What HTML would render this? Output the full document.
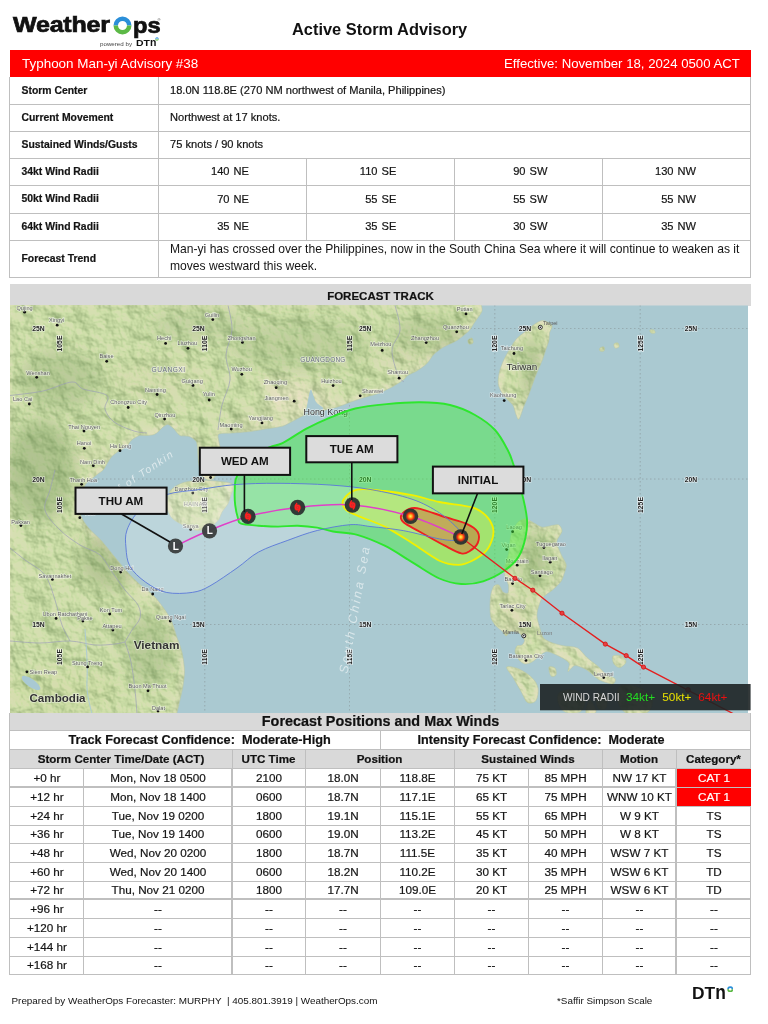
<!DOCTYPE html>
<html><head><meta charset="utf-8"><title>Active Storm Advisory</title>
<style>
html,body{margin:0;padding:0;background:#fff;}
body{position:relative;width:768px;height:1024px;overflow:hidden;font-family:"Liberation Sans", Arial, sans-serif;color:#141414;}
.a{position:absolute;white-space:nowrap;}
.l{position:absolute;}
.c{position:absolute;display:flex;align-items:center;white-space:nowrap;line-height:1;-webkit-text-stroke:0.2px currentColor;}
</style></head><body>
<div class="a" style="left:13px;top:10px;font-size:21.5px;font-weight:bold;color:#111;letter-spacing:-0.2px;-webkit-text-stroke:0.7px #111;transform:scaleX(1.165);transform-origin:0 0;line-height:30px">Weather</div>
<svg class="a" style="left:113px;top:15.5px" width="19" height="19" viewBox="0 0 19 19">
<path d="M0.5 9.5 A9 9 0 0 1 18.5 9.5 L14 9.5 A4.5 4.5 0 0 0 5 9.5 Z" fill="#2b8fd9"/>
<path d="M0.5 9.5 A9 9 0 0 0 18.5 9.5 L14 9.5 A4.5 4.5 0 0 1 5 9.5 Z" fill="#5cb946"/></svg>
<div class="a" style="left:132.5px;top:11.2px;font-size:21.5px;font-weight:bold;color:#111;-webkit-text-stroke:0.7px #111;transform:scaleX(1.1);transform-origin:0 0;line-height:30px">ps</div>
<div class="a" style="left:157.5px;top:17px;font-size:4px;color:#333">&#174;</div>
<div class="a" style="left:100px;top:39.5px;font-size:6.2px;color:#444;line-height:8px">powered by</div>
<div class="a" style="left:136.2px;top:38.6px;font-size:8.2px;font-weight:bold;color:#111;line-height:9px;transform:scaleX(1.28);transform-origin:0 0">DT<span style="display:inline-block;transform:scaleY(1.28);transform-origin:50% 80%">n</span></div>
<svg class="a" style="left:154.5px;top:36.5px" width="4" height="4" viewBox="0 0 4 4"><path d="M0.3 2 A1.7 1.7 0 0 1 3.7 2 L2.8 2 A0.8 0.8 0 0 0 1.2 2Z" fill="#2b8fd9"/><path d="M0.3 2 A1.7 1.7 0 0 0 3.7 2 L2.8 2 A0.8 0.8 0 0 1 1.2 2Z" fill="#5cb946"/></svg>
<div class="a" style="left:292px;top:18px;font-size:16.4px;font-weight:bold;color:#111;line-height:22px">Active Storm Advisory</div>
<div class="a" style="left:10px;top:50px;width:741px;height:27px;background:#ff0000"></div>
<div class="a" style="left:22px;top:55px;font-size:13.45px;color:#fff;line-height:17px">Typhoon Man-yi Advisory #38</div>
<div class="a" style="left:504px;top:55px;font-size:13.2px;color:#fff;line-height:17px">Effective: November 18, 2024 0500 ACT</div>
<div class="l" style="left:9px;top:77px;width:1px;height:201px;background:#bfbfbf"></div>
<div class="l" style="left:750px;top:77px;width:1px;height:201px;background:#bfbfbf"></div>
<div class="l" style="left:9px;top:104px;width:742px;height:1px;background:#bfbfbf"></div>
<div class="l" style="left:9px;top:131px;width:742px;height:1px;background:#bfbfbf"></div>
<div class="l" style="left:9px;top:158px;width:742px;height:1px;background:#bfbfbf"></div>
<div class="l" style="left:9px;top:185px;width:742px;height:1px;background:#bfbfbf"></div>
<div class="l" style="left:9px;top:213px;width:742px;height:1px;background:#bfbfbf"></div>
<div class="l" style="left:9px;top:240px;width:742px;height:1px;background:#bfbfbf"></div>
<div class="l" style="left:9px;top:277px;width:742px;height:1px;background:#bfbfbf"></div>
<div class="l" style="left:158px;top:77px;width:1px;height:200px;background:#bfbfbf"></div>
<div class="l" style="left:306px;top:158px;width:1px;height:82px;background:#bfbfbf"></div>
<div class="l" style="left:454px;top:158px;width:1px;height:82px;background:#bfbfbf"></div>
<div class="l" style="left:602px;top:158px;width:1px;height:82px;background:#bfbfbf"></div>
<div class="c" style="left:10px;top:78px;width:148px;height:26px;font-size:10.4px;justify-content:flex-start;color:#141414;font-weight:bold;padding-left:11.5px;box-sizing:border-box;">Storm Center</div>
<div class="c" style="left:10px;top:105px;width:148px;height:26px;font-size:10.4px;justify-content:flex-start;color:#141414;font-weight:bold;padding-left:11.5px;box-sizing:border-box;">Current Movement</div>
<div class="c" style="left:10px;top:132px;width:148px;height:26px;font-size:10.4px;justify-content:flex-start;color:#141414;font-weight:bold;padding-left:11.5px;box-sizing:border-box;">Sustained Winds/Gusts</div>
<div class="c" style="left:10px;top:159px;width:148px;height:26px;font-size:10.4px;justify-content:flex-start;color:#141414;font-weight:bold;padding-left:11.5px;box-sizing:border-box;">34kt Wind Radii</div>
<div class="c" style="left:10px;top:186px;width:148px;height:27px;font-size:10.4px;justify-content:flex-start;color:#141414;font-weight:bold;padding-left:11.5px;box-sizing:border-box;">50kt Wind Radii</div>
<div class="c" style="left:10px;top:214px;width:148px;height:26px;font-size:10.4px;justify-content:flex-start;color:#141414;font-weight:bold;padding-left:11.5px;box-sizing:border-box;">64kt Wind Radii</div>
<div class="c" style="left:10px;top:241px;width:148px;height:36px;font-size:10.4px;justify-content:flex-start;color:#141414;font-weight:bold;padding-left:11.5px;box-sizing:border-box;">Forecast Trend</div>
<div class="c" style="left:159px;top:78px;width:591px;height:26px;font-size:11.1px;justify-content:flex-start;color:#141414;padding-left:11px;box-sizing:border-box;">18.0N 118.8E (270 NM northwest of Manila, Philippines)</div>
<div class="c" style="left:159px;top:105px;width:591px;height:26px;font-size:11.1px;justify-content:flex-start;color:#141414;padding-left:11px;box-sizing:border-box;">Northwest at 17 knots.</div>
<div class="c" style="left:159px;top:132px;width:591px;height:26px;font-size:11.1px;justify-content:flex-start;color:#141414;padding-left:11px;box-sizing:border-box;">75 knots / 90 knots</div>
<div class="c" style="left:158px;top:159px;width:71.5px;height:26px;font-size:11.1px;justify-content:flex-end">140</div>
<div class="c" style="left:233.5px;top:159px;height:26px;font-size:11.1px">NE</div>
<div class="c" style="left:306px;top:159px;width:71.5px;height:26px;font-size:11.1px;justify-content:flex-end">110</div>
<div class="c" style="left:381.5px;top:159px;height:26px;font-size:11.1px">SE</div>
<div class="c" style="left:454px;top:159px;width:71.5px;height:26px;font-size:11.1px;justify-content:flex-end">90</div>
<div class="c" style="left:529.5px;top:159px;height:26px;font-size:11.1px">SW</div>
<div class="c" style="left:602px;top:159px;width:71.5px;height:26px;font-size:11.1px;justify-content:flex-end">130</div>
<div class="c" style="left:677.5px;top:159px;height:26px;font-size:11.1px">NW</div>
<div class="c" style="left:158px;top:186px;width:71.5px;height:27px;font-size:11.1px;justify-content:flex-end">70</div>
<div class="c" style="left:233.5px;top:186px;height:27px;font-size:11.1px">NE</div>
<div class="c" style="left:306px;top:186px;width:71.5px;height:27px;font-size:11.1px;justify-content:flex-end">55</div>
<div class="c" style="left:381.5px;top:186px;height:27px;font-size:11.1px">SE</div>
<div class="c" style="left:454px;top:186px;width:71.5px;height:27px;font-size:11.1px;justify-content:flex-end">55</div>
<div class="c" style="left:529.5px;top:186px;height:27px;font-size:11.1px">SW</div>
<div class="c" style="left:602px;top:186px;width:71.5px;height:27px;font-size:11.1px;justify-content:flex-end">55</div>
<div class="c" style="left:677.5px;top:186px;height:27px;font-size:11.1px">NW</div>
<div class="c" style="left:158px;top:214px;width:71.5px;height:26px;font-size:11.1px;justify-content:flex-end">35</div>
<div class="c" style="left:233.5px;top:214px;height:26px;font-size:11.1px">NE</div>
<div class="c" style="left:306px;top:214px;width:71.5px;height:26px;font-size:11.1px;justify-content:flex-end">35</div>
<div class="c" style="left:381.5px;top:214px;height:26px;font-size:11.1px">SE</div>
<div class="c" style="left:454px;top:214px;width:71.5px;height:26px;font-size:11.1px;justify-content:flex-end">30</div>
<div class="c" style="left:529.5px;top:214px;height:26px;font-size:11.1px">SW</div>
<div class="c" style="left:602px;top:214px;width:71.5px;height:26px;font-size:11.1px;justify-content:flex-end">35</div>
<div class="c" style="left:677.5px;top:214px;height:26px;font-size:11.1px">NW</div>
<div class="a" style="left:170px;top:241px;font-size:12.1px;line-height:16.9px;color:#141414">Man-yi has crossed over the Philippines, now in the South China Sea where it will continue to weaken as it<br>moves westward this week.</div>
<div class="a" style="left:10px;top:284px;width:741px;height:22px;background:#d9d9d9"></div>
<div class="c" style="left:10px;top:286px;width:741px;height:22px;font-size:11.5px;justify-content:center;color:#111;font-weight:bold;">FORECAST TRACK</div>
<svg class="a" style="left:10px;top:305px" width="741" height="409" viewBox="10 305 741 409">
<defs>
<clipPath id="mclip"><rect x="10" y="305.5" width="738" height="408.5"/></clipPath>
<clipPath id="landclip"><path d="M5,300 L482,300 L481.0,303.0 C481.1,304.1 482.5,308.9 482.0,311.0 C481.5,313.1 478.1,317.3 477.0,319.0 C475.9,320.7 474.8,322.1 473.7,323.7 C472.6,325.3 471.2,328.6 469.0,330.8 C466.8,333.0 460.7,338.0 457.3,340.2 C453.9,342.4 446.4,345.3 443.3,347.2 C440.2,349.1 436.1,352.0 433.9,354.2 C431.7,356.4 429.1,361.4 426.9,363.6 C424.7,365.8 420.0,369.0 417.5,370.6 C415.0,372.2 409.9,374.0 408.0,375.3 C406.1,376.6 405.3,378.6 403.4,380.0 C401.5,381.4 396.2,384.6 394.0,385.9 C391.8,387.2 388.9,388.5 387.0,389.4 C385.1,390.3 382.9,391.8 380.0,392.9 C377.1,394.0 369.2,396.0 365.0,397.3 C360.8,398.6 352.2,401.5 348.6,402.8 C345.0,404.1 341.3,405.8 337.7,406.9 C334.1,408.0 325.7,409.9 321.3,411.0 C316.9,412.1 308.5,413.8 304.8,415.1 C301.1,416.4 296.8,419.1 293.9,420.6 C291.0,422.1 286.6,424.9 283.0,426.0 C279.4,427.1 271.0,428.1 266.6,428.8 C262.2,429.5 254.6,431.0 250.2,431.5 C245.8,432.0 238.0,432.6 233.8,432.9 C229.6,433.2 221.0,432.9 219.0,434.0 C217.0,435.1 218.5,438.6 218.8,441.0 C219.0,443.4 220.8,448.7 221.0,452.0 C221.2,455.3 220.9,462.5 220.0,466.0 C219.1,469.5 215.6,476.1 214.0,478.0 C212.4,479.9 209.6,480.3 208.0,480.0 C206.4,479.7 203.2,477.9 202.0,476.0 C200.8,474.1 199.5,468.7 199.0,466.0 C198.5,463.3 198.2,458.5 198.0,456.0 C197.8,453.5 197.8,449.5 197.5,447.5 C197.2,445.5 197.1,442.7 196.0,441.2 C194.9,439.8 191.5,437.3 189.4,436.5 C187.3,435.7 182.1,436.5 180.0,435.5 C177.9,434.5 175.6,430.5 174.0,429.0 C172.4,427.5 169.5,424.8 168.0,424.5 C166.5,424.2 164.2,426.1 163.0,427.0 C161.8,427.9 160.2,430.0 159.0,431.0 C157.8,432.0 155.7,433.9 154.0,434.5 C152.3,435.1 147.9,435.4 146.0,435.5 C144.1,435.6 141.3,434.9 139.4,435.5 C137.5,436.1 133.3,438.6 131.6,440.0 C129.9,441.4 128.7,444.8 127.0,446.2 C125.3,447.7 120.9,449.8 119.0,451.0 C117.1,452.2 114.3,454.1 112.8,455.6 C111.3,457.1 109.3,460.0 108.0,461.9 C106.7,463.8 104.8,468.0 103.4,469.7 C102.0,471.4 99.1,472.9 97.2,474.4 C95.3,475.9 91.1,479.1 89.4,480.6 C87.7,482.1 85.8,483.0 84.7,486.0 C83.6,489.0 81.6,499.2 81.0,503.0 C80.4,506.8 79.4,511.1 80.3,514.3 C81.2,517.5 85.2,523.8 88.0,527.3 C90.8,530.8 97.5,536.5 101.0,540.3 C104.5,544.1 110.5,551.8 114.0,556.0 C117.5,560.2 123.5,567.8 127.0,571.6 C130.5,575.4 136.5,581.5 140.0,584.6 C143.5,587.7 149.9,591.9 153.0,595.0 C156.1,598.1 161.1,604.5 163.6,608.0 C166.1,611.5 169.8,617.2 171.5,621.0 C173.2,624.8 175.3,632.5 176.7,636.7 C178.1,640.9 181.0,647.8 182.0,652.3 C183.0,656.8 184.4,666.0 184.5,670.5 C184.6,675.0 183.7,681.5 183.0,686.0 C182.3,690.5 179.8,700.3 179.0,704.0 C178.2,707.7 177.0,712.7 176.7,714.0 L176,720 L5,720 Z M181.0,483.4 C185.3,481.8 191.3,480.9 197.0,480.5 C202.7,480.1 209.3,480.5 215.0,481.0 C220.7,481.5 227.9,482.2 231.0,483.4 C234.1,484.6 233.5,486.1 233.5,488.0 C233.5,489.9 231.9,492.4 231.0,495.0 C230.1,497.6 229.5,500.9 228.0,503.8 C226.5,506.6 223.5,509.4 222.0,512.0 C220.5,514.6 220.3,517.1 218.8,519.4 C217.2,521.7 214.8,524.0 212.5,525.6 C210.2,527.2 207.6,528.2 205.0,529.0 C202.4,529.8 200.3,531.0 197.0,530.5 C193.7,530.0 189.0,527.9 185.0,526.0 C181.0,524.1 175.8,521.5 173.0,519.0 C170.2,516.5 169.0,513.5 168.0,511.0 C167.0,508.5 167.0,506.1 167.0,503.8 C167.0,501.4 167.3,499.3 168.0,497.0 C168.7,494.7 168.8,492.3 171.0,490.0 C173.2,487.7 176.7,485.0 181.0,483.4 Z M542.5,320.6 C545.6,320.6 550.7,323.2 551.9,325.3 C553.1,327.4 550.0,330.4 549.5,333.0 C549.0,335.6 549.4,338.1 548.8,341.0 C548.1,343.9 546.6,347.2 545.6,350.3 C544.6,353.4 543.8,356.3 542.5,359.7 C541.2,363.1 539.4,366.7 537.8,370.6 C536.2,374.5 534.6,378.8 533.0,383.0 C531.4,387.2 529.9,391.7 528.4,395.6 C526.9,399.5 525.3,402.7 523.8,406.6 C522.2,410.5 520.3,417.7 519.0,419.0 C517.7,420.3 517.0,416.7 516.0,414.4 C515.0,412.1 514.6,407.9 512.8,405.0 C511.0,402.1 507.3,400.3 505.0,397.2 C502.7,394.1 499.8,389.9 498.8,386.2 C497.7,382.6 498.2,378.9 498.8,375.3 C499.3,371.7 500.4,368.3 501.9,364.4 C503.4,360.5 505.6,356.2 508.0,352.0 C510.4,347.8 513.1,342.8 516.0,339.4 C518.9,336.0 522.5,334.0 525.3,331.6 C528.1,329.2 530.1,327.1 533.0,325.3 C535.9,323.5 539.4,320.6 542.5,320.6 Z M517.2,523.0 C519.1,520.8 523.3,518.8 525.5,518.8 C527.7,518.8 531.8,521.9 534.0,523.0 C536.2,524.1 539.8,526.9 542.2,527.2 C544.6,527.5 549.8,525.8 552.0,525.5 C554.2,525.2 557.7,524.2 559.0,525.0 C560.3,525.8 562.3,529.1 562.0,531.3 C561.7,533.5 556.9,538.7 556.8,541.8 C556.7,544.9 559.7,551.2 561.0,554.3 C562.3,557.4 565.8,562.1 566.2,564.8 C566.6,567.4 564.7,571.8 564.0,574.0 C563.3,576.2 562.5,579.4 561.0,581.5 C559.5,583.6 555.2,587.6 552.7,589.8 C550.2,592.0 544.2,595.7 542.2,598.2 C540.2,600.7 538.7,606.1 538.0,608.6 C537.3,611.1 536.7,614.3 537.0,617.0 C537.3,619.7 539.1,625.7 540.0,628.5 C540.9,631.3 541.8,636.1 543.5,638.0 C545.2,639.9 550.0,642.0 552.7,643.0 C555.4,644.0 560.1,645.1 563.4,645.8 C566.7,646.5 574.4,646.4 577.5,648.0 C580.6,649.6 584.1,655.0 586.9,657.5 C589.7,660.0 596.1,664.7 598.6,666.9 C601.1,669.1 603.4,672.3 605.6,673.9 C607.8,675.5 614.1,677.3 615.0,678.6 C615.9,679.9 614.9,683.9 612.7,684.0 C610.5,684.1 602.0,681.4 598.6,679.5 C595.2,677.6 590.0,671.9 586.9,670.0 C583.8,668.1 577.5,665.3 575.0,665.5 C572.5,665.7 568.8,671.8 568.0,671.5 C567.2,671.2 570.2,665.1 569.0,663.0 C567.8,660.9 561.7,657.5 558.8,656.0 C555.8,654.5 549.5,651.6 547.0,651.5 C544.5,651.4 542.0,654.1 540.0,655.5 C538.0,656.9 534.0,660.9 532.0,662.0 C530.0,663.1 526.7,664.3 525.0,664.0 C523.3,663.7 520.3,661.6 519.0,660.0 C517.7,658.4 515.3,653.9 515.0,652.0 C514.7,650.1 516.1,646.9 517.0,646.0 C517.9,645.1 521.0,645.8 522.0,645.0 C523.0,644.2 524.9,641.6 524.5,640.0 C524.1,638.4 520.8,634.1 519.0,633.0 C517.2,631.9 512.7,631.1 511.0,631.5 C509.3,631.9 507.2,636.1 506.0,636.0 C504.8,635.9 503.3,632.3 502.0,631.0 C500.7,629.7 497.5,627.7 496.0,626.0 C494.5,624.3 491.8,620.7 491.0,618.0 C490.2,615.3 490.0,609.2 490.0,606.0 C490.0,602.8 490.5,596.7 491.0,594.0 C491.5,591.3 492.9,587.2 494.0,586.0 C495.1,584.8 497.8,584.2 499.0,585.0 C500.2,585.8 501.8,590.9 503.0,592.0 C504.2,593.1 507.3,593.9 508.0,593.0 C508.7,592.1 508.9,587.1 508.5,585.0 C508.1,582.9 505.5,579.1 505.0,577.0 C504.5,574.9 504.1,572.3 504.6,569.0 C505.1,565.7 508.0,556.7 508.8,552.2 C509.6,547.7 509.8,539.4 510.9,535.5 C512.0,531.6 515.3,525.2 517.2,523.0 Z M506.7,667.0 C507.7,665.6 514.8,667.2 519.0,669.0 C523.2,670.8 528.6,674.3 531.8,677.5 C535.0,680.7 537.3,684.2 538.0,688.0 C538.7,691.8 537.7,698.1 536.0,700.5 C534.3,702.9 530.1,704.0 527.6,702.6 C525.1,701.2 523.7,696.2 521.3,692.0 C518.9,687.8 515.4,681.7 513.0,677.5 C510.6,673.3 505.7,668.4 506.7,667.0 Z M613.0,656.0 C614.3,654.8 619.8,655.5 622.0,656.5 C624.2,657.5 626.3,660.2 626.0,662.0 C625.7,663.8 622.0,667.2 620.0,667.5 C618.0,667.8 615.2,665.9 614.0,664.0 C612.8,662.1 611.7,657.2 613.0,656.0 Z M549.0,667.0 C549.7,665.7 553.8,666.7 555.0,668.0 C556.2,669.3 556.7,673.7 556.0,675.0 C555.3,676.3 552.2,677.3 551.0,676.0 C549.8,674.7 548.3,668.3 549.0,667.0 Z M620.0,686.0 C623.7,683.7 634.7,686.0 640.0,688.0 C645.3,690.0 650.7,694.0 652.0,698.0 C653.3,702.0 652.0,709.3 648.0,712.0 C644.0,714.7 633.0,715.7 628.0,714.0 C623.0,712.3 619.3,706.7 618.0,702.0 C616.7,697.3 616.3,688.3 620.0,686.0 Z M560.0,692.0 C562.8,690.0 570.8,688.7 575.0,690.0 C579.2,691.3 584.2,696.3 585.0,700.0 C585.8,703.7 583.3,710.0 580.0,712.0 C576.7,714.0 568.7,713.7 565.0,712.0 C561.3,710.3 558.8,705.3 558.0,702.0 C557.2,698.7 557.2,694.0 560.0,692.0 Z M596.0,694.0 C597.3,692.0 604.3,693.7 606.0,696.0 C607.7,698.3 607.3,706.0 606.0,708.0 C604.7,710.0 599.7,710.3 598.0,708.0 C596.3,705.7 594.7,696.0 596.0,694.0 Z M590.0,700.0 C591.7,699.8 596.7,709.8 596.0,712.0 C595.3,714.2 587.0,715.0 586.0,713.0 C585.0,711.0 588.3,700.2 590.0,700.0 Z M468.0,340.0 C468.5,339.0 471.2,337.5 472.0,338.0 C472.8,338.5 473.5,342.0 473.0,343.0 C472.5,344.0 469.8,344.5 469.0,344.0 C468.2,343.5 467.5,341.0 468.0,340.0 Z M600.0,348.0 C600.7,347.3 603.3,346.5 604.0,347.0 C604.7,347.5 604.7,350.3 604.0,351.0 C603.3,351.7 600.7,351.5 600.0,351.0 C599.3,350.5 599.3,348.7 600.0,348.0 Z M614.0,344.0 C614.5,343.2 617.2,342.5 618.0,343.0 C618.8,343.5 619.5,346.2 619.0,347.0 C618.5,347.8 615.8,348.5 615.0,348.0 C614.2,347.5 613.5,344.8 614.0,344.0 Z M650.0,330.0 C650.5,329.5 653.2,329.5 654.0,330.0 C654.8,330.5 655.5,332.5 655.0,333.0 C654.5,333.5 651.8,333.5 651.0,333.0 C650.2,332.5 649.5,330.5 650.0,330.0 Z"/></clipPath>
<filter id="relief" x="0" y="0" width="100%" height="100%" color-interpolation-filters="sRGB">
 <feTurbulence type="fractalNoise" baseFrequency="0.05" numOctaves="5" seed="11" result="noise"/>
 <feDiffuseLighting in="noise" lighting-color="#ffffff" surfaceScale="4" diffuseConstant="1.1" result="light">
   <feDistantLight azimuth="315" elevation="50"/>
 </feDiffuseLighting>
 <feColorMatrix in="light" type="matrix" values="0.72 0 0 0 0.3  0.6 0 0 0 0.47  0.75 0 0 0 0.22  0 0 0 0 1"/>
</filter>
<filter id="blur6" x="-50%" y="-50%" width="200%" height="200%"><feGaussianBlur stdDeviation="7"/></filter>
<filter id="blur3" x="-50%" y="-50%" width="200%" height="200%"><feGaussianBlur stdDeviation="3"/></filter>
<radialGradient id="glowg"><stop offset="0" stop-color="#fff060"/><stop offset="0.3" stop-color="#ffb020"/><stop offset="0.6" stop-color="#ff3a10"/><stop offset="1" stop-color="#ff2010" stop-opacity="0"/></radialGradient>
<radialGradient id="glowr"><stop offset="0" stop-color="#ff3030" stop-opacity="0.9"/><stop offset="0.6" stop-color="#ff2020" stop-opacity="0.5"/><stop offset="1" stop-color="#ff2020" stop-opacity="0"/></radialGradient>
</defs>
<g clip-path="url(#mclip)">
<rect x="10" y="305" width="738" height="409" fill="#aac9d1"/>
<line x1="10" y1="328.4" x2="748" y2="328.4" stroke="#707070" stroke-width="0.8" stroke-dasharray="1.5 2.5" opacity="0.45"/>
<line x1="10" y1="479" x2="748" y2="479" stroke="#707070" stroke-width="0.8" stroke-dasharray="1.5 2.5" opacity="0.45"/>
<line x1="10" y1="624.5" x2="748" y2="624.5" stroke="#707070" stroke-width="0.8" stroke-dasharray="1.5 2.5" opacity="0.45"/>
<line x1="59.5" y1="305" x2="59.5" y2="714" stroke="#707070" stroke-width="0.8" stroke-dasharray="1.5 2.5" opacity="0.45"/>
<line x1="204.8" y1="305" x2="204.8" y2="714" stroke="#707070" stroke-width="0.8" stroke-dasharray="1.5 2.5" opacity="0.45"/>
<line x1="349.6" y1="305" x2="349.6" y2="714" stroke="#707070" stroke-width="0.8" stroke-dasharray="1.5 2.5" opacity="0.45"/>
<line x1="494.8" y1="305" x2="494.8" y2="714" stroke="#707070" stroke-width="0.8" stroke-dasharray="1.5 2.5" opacity="0.45"/>
<line x1="640.2" y1="305" x2="640.2" y2="714" stroke="#707070" stroke-width="0.8" stroke-dasharray="1.5 2.5" opacity="0.45"/>
<g clip-path="url(#landclip)">
<rect x="10" y="305" width="738" height="409" fill="#d5dfb5"/>
<path d="M5,300 L482,300 L481.0,303.0 C481.1,304.1 482.5,308.9 482.0,311.0 C481.5,313.1 478.1,317.3 477.0,319.0 C475.9,320.7 474.8,322.1 473.7,323.7 C472.6,325.3 471.2,328.6 469.0,330.8 C466.8,333.0 460.7,338.0 457.3,340.2 C453.9,342.4 446.4,345.3 443.3,347.2 C440.2,349.1 436.1,352.0 433.9,354.2 C431.7,356.4 429.1,361.4 426.9,363.6 C424.7,365.8 420.0,369.0 417.5,370.6 C415.0,372.2 409.9,374.0 408.0,375.3 C406.1,376.6 405.3,378.6 403.4,380.0 C401.5,381.4 396.2,384.6 394.0,385.9 C391.8,387.2 388.9,388.5 387.0,389.4 C385.1,390.3 382.9,391.8 380.0,392.9 C377.1,394.0 369.2,396.0 365.0,397.3 C360.8,398.6 352.2,401.5 348.6,402.8 C345.0,404.1 341.3,405.8 337.7,406.9 C334.1,408.0 325.7,409.9 321.3,411.0 C316.9,412.1 308.5,413.8 304.8,415.1 C301.1,416.4 296.8,419.1 293.9,420.6 C291.0,422.1 286.6,424.9 283.0,426.0 C279.4,427.1 271.0,428.1 266.6,428.8 C262.2,429.5 254.6,431.0 250.2,431.5 C245.8,432.0 238.0,432.6 233.8,432.9 C229.6,433.2 221.0,432.9 219.0,434.0 C217.0,435.1 218.5,438.6 218.8,441.0 C219.0,443.4 220.8,448.7 221.0,452.0 C221.2,455.3 220.9,462.5 220.0,466.0 C219.1,469.5 215.6,476.1 214.0,478.0 C212.4,479.9 209.6,480.3 208.0,480.0 C206.4,479.7 203.2,477.9 202.0,476.0 C200.8,474.1 199.5,468.7 199.0,466.0 C198.5,463.3 198.2,458.5 198.0,456.0 C197.8,453.5 197.8,449.5 197.5,447.5 C197.2,445.5 197.1,442.7 196.0,441.2 C194.9,439.8 191.5,437.3 189.4,436.5 C187.3,435.7 182.1,436.5 180.0,435.5 C177.9,434.5 175.6,430.5 174.0,429.0 C172.4,427.5 169.5,424.8 168.0,424.5 C166.5,424.2 164.2,426.1 163.0,427.0 C161.8,427.9 160.2,430.0 159.0,431.0 C157.8,432.0 155.7,433.9 154.0,434.5 C152.3,435.1 147.9,435.4 146.0,435.5 C144.1,435.6 141.3,434.9 139.4,435.5 C137.5,436.1 133.3,438.6 131.6,440.0 C129.9,441.4 128.7,444.8 127.0,446.2 C125.3,447.7 120.9,449.8 119.0,451.0 C117.1,452.2 114.3,454.1 112.8,455.6 C111.3,457.1 109.3,460.0 108.0,461.9 C106.7,463.8 104.8,468.0 103.4,469.7 C102.0,471.4 99.1,472.9 97.2,474.4 C95.3,475.9 91.1,479.1 89.4,480.6 C87.7,482.1 85.8,483.0 84.7,486.0 C83.6,489.0 81.6,499.2 81.0,503.0 C80.4,506.8 79.4,511.1 80.3,514.3 C81.2,517.5 85.2,523.8 88.0,527.3 C90.8,530.8 97.5,536.5 101.0,540.3 C104.5,544.1 110.5,551.8 114.0,556.0 C117.5,560.2 123.5,567.8 127.0,571.6 C130.5,575.4 136.5,581.5 140.0,584.6 C143.5,587.7 149.9,591.9 153.0,595.0 C156.1,598.1 161.1,604.5 163.6,608.0 C166.1,611.5 169.8,617.2 171.5,621.0 C173.2,624.8 175.3,632.5 176.7,636.7 C178.1,640.9 181.0,647.8 182.0,652.3 C183.0,656.8 184.4,666.0 184.5,670.5 C184.6,675.0 183.7,681.5 183.0,686.0 C182.3,690.5 179.8,700.3 179.0,704.0 C178.2,707.7 177.0,712.7 176.7,714.0 L176,720 L5,720 Z M181.0,483.4 C185.3,481.8 191.3,480.9 197.0,480.5 C202.7,480.1 209.3,480.5 215.0,481.0 C220.7,481.5 227.9,482.2 231.0,483.4 C234.1,484.6 233.5,486.1 233.5,488.0 C233.5,489.9 231.9,492.4 231.0,495.0 C230.1,497.6 229.5,500.9 228.0,503.8 C226.5,506.6 223.5,509.4 222.0,512.0 C220.5,514.6 220.3,517.1 218.8,519.4 C217.2,521.7 214.8,524.0 212.5,525.6 C210.2,527.2 207.6,528.2 205.0,529.0 C202.4,529.8 200.3,531.0 197.0,530.5 C193.7,530.0 189.0,527.9 185.0,526.0 C181.0,524.1 175.8,521.5 173.0,519.0 C170.2,516.5 169.0,513.5 168.0,511.0 C167.0,508.5 167.0,506.1 167.0,503.8 C167.0,501.4 167.3,499.3 168.0,497.0 C168.7,494.7 168.8,492.3 171.0,490.0 C173.2,487.7 176.7,485.0 181.0,483.4 Z M542.5,320.6 C545.6,320.6 550.7,323.2 551.9,325.3 C553.1,327.4 550.0,330.4 549.5,333.0 C549.0,335.6 549.4,338.1 548.8,341.0 C548.1,343.9 546.6,347.2 545.6,350.3 C544.6,353.4 543.8,356.3 542.5,359.7 C541.2,363.1 539.4,366.7 537.8,370.6 C536.2,374.5 534.6,378.8 533.0,383.0 C531.4,387.2 529.9,391.7 528.4,395.6 C526.9,399.5 525.3,402.7 523.8,406.6 C522.2,410.5 520.3,417.7 519.0,419.0 C517.7,420.3 517.0,416.7 516.0,414.4 C515.0,412.1 514.6,407.9 512.8,405.0 C511.0,402.1 507.3,400.3 505.0,397.2 C502.7,394.1 499.8,389.9 498.8,386.2 C497.7,382.6 498.2,378.9 498.8,375.3 C499.3,371.7 500.4,368.3 501.9,364.4 C503.4,360.5 505.6,356.2 508.0,352.0 C510.4,347.8 513.1,342.8 516.0,339.4 C518.9,336.0 522.5,334.0 525.3,331.6 C528.1,329.2 530.1,327.1 533.0,325.3 C535.9,323.5 539.4,320.6 542.5,320.6 Z M517.2,523.0 C519.1,520.8 523.3,518.8 525.5,518.8 C527.7,518.8 531.8,521.9 534.0,523.0 C536.2,524.1 539.8,526.9 542.2,527.2 C544.6,527.5 549.8,525.8 552.0,525.5 C554.2,525.2 557.7,524.2 559.0,525.0 C560.3,525.8 562.3,529.1 562.0,531.3 C561.7,533.5 556.9,538.7 556.8,541.8 C556.7,544.9 559.7,551.2 561.0,554.3 C562.3,557.4 565.8,562.1 566.2,564.8 C566.6,567.4 564.7,571.8 564.0,574.0 C563.3,576.2 562.5,579.4 561.0,581.5 C559.5,583.6 555.2,587.6 552.7,589.8 C550.2,592.0 544.2,595.7 542.2,598.2 C540.2,600.7 538.7,606.1 538.0,608.6 C537.3,611.1 536.7,614.3 537.0,617.0 C537.3,619.7 539.1,625.7 540.0,628.5 C540.9,631.3 541.8,636.1 543.5,638.0 C545.2,639.9 550.0,642.0 552.7,643.0 C555.4,644.0 560.1,645.1 563.4,645.8 C566.7,646.5 574.4,646.4 577.5,648.0 C580.6,649.6 584.1,655.0 586.9,657.5 C589.7,660.0 596.1,664.7 598.6,666.9 C601.1,669.1 603.4,672.3 605.6,673.9 C607.8,675.5 614.1,677.3 615.0,678.6 C615.9,679.9 614.9,683.9 612.7,684.0 C610.5,684.1 602.0,681.4 598.6,679.5 C595.2,677.6 590.0,671.9 586.9,670.0 C583.8,668.1 577.5,665.3 575.0,665.5 C572.5,665.7 568.8,671.8 568.0,671.5 C567.2,671.2 570.2,665.1 569.0,663.0 C567.8,660.9 561.7,657.5 558.8,656.0 C555.8,654.5 549.5,651.6 547.0,651.5 C544.5,651.4 542.0,654.1 540.0,655.5 C538.0,656.9 534.0,660.9 532.0,662.0 C530.0,663.1 526.7,664.3 525.0,664.0 C523.3,663.7 520.3,661.6 519.0,660.0 C517.7,658.4 515.3,653.9 515.0,652.0 C514.7,650.1 516.1,646.9 517.0,646.0 C517.9,645.1 521.0,645.8 522.0,645.0 C523.0,644.2 524.9,641.6 524.5,640.0 C524.1,638.4 520.8,634.1 519.0,633.0 C517.2,631.9 512.7,631.1 511.0,631.5 C509.3,631.9 507.2,636.1 506.0,636.0 C504.8,635.9 503.3,632.3 502.0,631.0 C500.7,629.7 497.5,627.7 496.0,626.0 C494.5,624.3 491.8,620.7 491.0,618.0 C490.2,615.3 490.0,609.2 490.0,606.0 C490.0,602.8 490.5,596.7 491.0,594.0 C491.5,591.3 492.9,587.2 494.0,586.0 C495.1,584.8 497.8,584.2 499.0,585.0 C500.2,585.8 501.8,590.9 503.0,592.0 C504.2,593.1 507.3,593.9 508.0,593.0 C508.7,592.1 508.9,587.1 508.5,585.0 C508.1,582.9 505.5,579.1 505.0,577.0 C504.5,574.9 504.1,572.3 504.6,569.0 C505.1,565.7 508.0,556.7 508.8,552.2 C509.6,547.7 509.8,539.4 510.9,535.5 C512.0,531.6 515.3,525.2 517.2,523.0 Z M506.7,667.0 C507.7,665.6 514.8,667.2 519.0,669.0 C523.2,670.8 528.6,674.3 531.8,677.5 C535.0,680.7 537.3,684.2 538.0,688.0 C538.7,691.8 537.7,698.1 536.0,700.5 C534.3,702.9 530.1,704.0 527.6,702.6 C525.1,701.2 523.7,696.2 521.3,692.0 C518.9,687.8 515.4,681.7 513.0,677.5 C510.6,673.3 505.7,668.4 506.7,667.0 Z M613.0,656.0 C614.3,654.8 619.8,655.5 622.0,656.5 C624.2,657.5 626.3,660.2 626.0,662.0 C625.7,663.8 622.0,667.2 620.0,667.5 C618.0,667.8 615.2,665.9 614.0,664.0 C612.8,662.1 611.7,657.2 613.0,656.0 Z M549.0,667.0 C549.7,665.7 553.8,666.7 555.0,668.0 C556.2,669.3 556.7,673.7 556.0,675.0 C555.3,676.3 552.2,677.3 551.0,676.0 C549.8,674.7 548.3,668.3 549.0,667.0 Z M620.0,686.0 C623.7,683.7 634.7,686.0 640.0,688.0 C645.3,690.0 650.7,694.0 652.0,698.0 C653.3,702.0 652.0,709.3 648.0,712.0 C644.0,714.7 633.0,715.7 628.0,714.0 C623.0,712.3 619.3,706.7 618.0,702.0 C616.7,697.3 616.3,688.3 620.0,686.0 Z M560.0,692.0 C562.8,690.0 570.8,688.7 575.0,690.0 C579.2,691.3 584.2,696.3 585.0,700.0 C585.8,703.7 583.3,710.0 580.0,712.0 C576.7,714.0 568.7,713.7 565.0,712.0 C561.3,710.3 558.8,705.3 558.0,702.0 C557.2,698.7 557.2,694.0 560.0,692.0 Z M596.0,694.0 C597.3,692.0 604.3,693.7 606.0,696.0 C607.7,698.3 607.3,706.0 606.0,708.0 C604.7,710.0 599.7,710.3 598.0,708.0 C596.3,705.7 594.7,696.0 596.0,694.0 Z M590.0,700.0 C591.7,699.8 596.7,709.8 596.0,712.0 C595.3,714.2 587.0,715.0 586.0,713.0 C585.0,711.0 588.3,700.2 590.0,700.0 Z M468.0,340.0 C468.5,339.0 471.2,337.5 472.0,338.0 C472.8,338.5 473.5,342.0 473.0,343.0 C472.5,344.0 469.8,344.5 469.0,344.0 C468.2,343.5 467.5,341.0 468.0,340.0 Z M600.0,348.0 C600.7,347.3 603.3,346.5 604.0,347.0 C604.7,347.5 604.7,350.3 604.0,351.0 C603.3,351.7 600.7,351.5 600.0,351.0 C599.3,350.5 599.3,348.7 600.0,348.0 Z M614.0,344.0 C614.5,343.2 617.2,342.5 618.0,343.0 C618.8,343.5 619.5,346.2 619.0,347.0 C618.5,347.8 615.8,348.5 615.0,348.0 C614.2,347.5 613.5,344.8 614.0,344.0 Z M650.0,330.0 C650.5,329.5 653.2,329.5 654.0,330.0 C654.8,330.5 655.5,332.5 655.0,333.0 C654.5,333.5 651.8,333.5 651.0,333.0 C650.2,332.5 649.5,330.5 650.0,330.0 Z" fill="none" stroke="#e6e0c8" stroke-width="9" opacity="0.75" filter="url(#blur3)"/>
<g filter="url(#blur6)">
<ellipse cx="300" cy="400" rx="34" ry="16" fill="#e8e0c8" opacity="0.95"/>
<ellipse cx="280" cy="385" rx="20" ry="10" fill="#e4dec4" opacity="0.7"/>
<ellipse cx="255" cy="420" rx="25" ry="8" fill="#e0dbbf" opacity="0.6"/>
<ellipse cx="515" cy="615" rx="14" ry="20" fill="#e2dcc0" opacity="0.7"/>
<ellipse cx="160" cy="380" rx="50" ry="18" fill="#d8dab4" opacity="0.5"/>
<ellipse cx="60" cy="690" rx="60" ry="22" fill="#d6dcae" opacity="0.5"/>
<ellipse cx="400" cy="360" rx="30" ry="10" fill="#dcd9bb" opacity="0.5"/>
<ellipse cx="190" cy="505" rx="14" ry="14" fill="#d9d8b6" opacity="0.5"/>
<ellipse cx="90" cy="455" rx="18" ry="10" fill="#dedcbc" opacity="0.6"/>
</g>
<rect x="10" y="305" width="738" height="409" filter="url(#relief)" style="mix-blend-mode:multiply" opacity="0.62"/>
<g filter="url(#blur6)">
<ellipse cx="40" cy="470" rx="35" ry="50" fill="#6f8f55" opacity="0.35"/>
<ellipse cx="60" cy="380" rx="40" ry="30" fill="#6f8f55" opacity="0.25"/>
<ellipse cx="110" cy="560" rx="30" ry="30" fill="#6f8f55" opacity="0.3"/>
<ellipse cx="150" cy="650" rx="25" ry="35" fill="#6f8f55" opacity="0.25"/>
<ellipse cx="532" cy="370" rx="6" ry="32" fill="#6f8f55" opacity="0.5"/>
<ellipse cx="535" cy="560" rx="12" ry="28" fill="#6f8f55" opacity="0.35"/>
<ellipse cx="300" cy="345" rx="70" ry="25" fill="#6f8f55" opacity="0.18"/>
<ellipse cx="430" cy="335" rx="40" ry="18" fill="#6f8f55" opacity="0.22"/>
<ellipse cx="200" cy="325" rx="50" ry="16" fill="#6f8f55" opacity="0.15"/>
</g>
</g>
<path d="M303.0,417.5 C302.3,416.2 305.7,411.0 306.5,408.0 C307.3,405.0 308.4,397.5 309.0,395.0 C309.6,392.5 310.4,389.4 311.0,389.5 C311.6,389.6 312.8,394.3 313.5,396.0 C314.2,397.7 315.1,400.7 316.0,402.0 C316.9,403.3 319.1,404.6 320.0,405.5 C320.9,406.4 324.1,407.3 323.0,409.0 C321.9,410.7 314.7,416.9 312.0,418.0 C309.3,419.1 303.7,418.8 303.0,417.5 Z" fill="#aac9d1"/>
<path d="M5,300 L482,300 L481.0,303.0 C481.1,304.1 482.5,308.9 482.0,311.0 C481.5,313.1 478.1,317.3 477.0,319.0 C475.9,320.7 474.8,322.1 473.7,323.7 C472.6,325.3 471.2,328.6 469.0,330.8 C466.8,333.0 460.7,338.0 457.3,340.2 C453.9,342.4 446.4,345.3 443.3,347.2 C440.2,349.1 436.1,352.0 433.9,354.2 C431.7,356.4 429.1,361.4 426.9,363.6 C424.7,365.8 420.0,369.0 417.5,370.6 C415.0,372.2 409.9,374.0 408.0,375.3 C406.1,376.6 405.3,378.6 403.4,380.0 C401.5,381.4 396.2,384.6 394.0,385.9 C391.8,387.2 388.9,388.5 387.0,389.4 C385.1,390.3 382.9,391.8 380.0,392.9 C377.1,394.0 369.2,396.0 365.0,397.3 C360.8,398.6 352.2,401.5 348.6,402.8 C345.0,404.1 341.3,405.8 337.7,406.9 C334.1,408.0 325.7,409.9 321.3,411.0 C316.9,412.1 308.5,413.8 304.8,415.1 C301.1,416.4 296.8,419.1 293.9,420.6 C291.0,422.1 286.6,424.9 283.0,426.0 C279.4,427.1 271.0,428.1 266.6,428.8 C262.2,429.5 254.6,431.0 250.2,431.5 C245.8,432.0 238.0,432.6 233.8,432.9 C229.6,433.2 221.0,432.9 219.0,434.0 C217.0,435.1 218.5,438.6 218.8,441.0 C219.0,443.4 220.8,448.7 221.0,452.0 C221.2,455.3 220.9,462.5 220.0,466.0 C219.1,469.5 215.6,476.1 214.0,478.0 C212.4,479.9 209.6,480.3 208.0,480.0 C206.4,479.7 203.2,477.9 202.0,476.0 C200.8,474.1 199.5,468.7 199.0,466.0 C198.5,463.3 198.2,458.5 198.0,456.0 C197.8,453.5 197.8,449.5 197.5,447.5 C197.2,445.5 197.1,442.7 196.0,441.2 C194.9,439.8 191.5,437.3 189.4,436.5 C187.3,435.7 182.1,436.5 180.0,435.5 C177.9,434.5 175.6,430.5 174.0,429.0 C172.4,427.5 169.5,424.8 168.0,424.5 C166.5,424.2 164.2,426.1 163.0,427.0 C161.8,427.9 160.2,430.0 159.0,431.0 C157.8,432.0 155.7,433.9 154.0,434.5 C152.3,435.1 147.9,435.4 146.0,435.5 C144.1,435.6 141.3,434.9 139.4,435.5 C137.5,436.1 133.3,438.6 131.6,440.0 C129.9,441.4 128.7,444.8 127.0,446.2 C125.3,447.7 120.9,449.8 119.0,451.0 C117.1,452.2 114.3,454.1 112.8,455.6 C111.3,457.1 109.3,460.0 108.0,461.9 C106.7,463.8 104.8,468.0 103.4,469.7 C102.0,471.4 99.1,472.9 97.2,474.4 C95.3,475.9 91.1,479.1 89.4,480.6 C87.7,482.1 85.8,483.0 84.7,486.0 C83.6,489.0 81.6,499.2 81.0,503.0 C80.4,506.8 79.4,511.1 80.3,514.3 C81.2,517.5 85.2,523.8 88.0,527.3 C90.8,530.8 97.5,536.5 101.0,540.3 C104.5,544.1 110.5,551.8 114.0,556.0 C117.5,560.2 123.5,567.8 127.0,571.6 C130.5,575.4 136.5,581.5 140.0,584.6 C143.5,587.7 149.9,591.9 153.0,595.0 C156.1,598.1 161.1,604.5 163.6,608.0 C166.1,611.5 169.8,617.2 171.5,621.0 C173.2,624.8 175.3,632.5 176.7,636.7 C178.1,640.9 181.0,647.8 182.0,652.3 C183.0,656.8 184.4,666.0 184.5,670.5 C184.6,675.0 183.7,681.5 183.0,686.0 C182.3,690.5 179.8,700.3 179.0,704.0 C178.2,707.7 177.0,712.7 176.7,714.0 L176,720 L5,720 Z M181.0,483.4 C185.3,481.8 191.3,480.9 197.0,480.5 C202.7,480.1 209.3,480.5 215.0,481.0 C220.7,481.5 227.9,482.2 231.0,483.4 C234.1,484.6 233.5,486.1 233.5,488.0 C233.5,489.9 231.9,492.4 231.0,495.0 C230.1,497.6 229.5,500.9 228.0,503.8 C226.5,506.6 223.5,509.4 222.0,512.0 C220.5,514.6 220.3,517.1 218.8,519.4 C217.2,521.7 214.8,524.0 212.5,525.6 C210.2,527.2 207.6,528.2 205.0,529.0 C202.4,529.8 200.3,531.0 197.0,530.5 C193.7,530.0 189.0,527.9 185.0,526.0 C181.0,524.1 175.8,521.5 173.0,519.0 C170.2,516.5 169.0,513.5 168.0,511.0 C167.0,508.5 167.0,506.1 167.0,503.8 C167.0,501.4 167.3,499.3 168.0,497.0 C168.7,494.7 168.8,492.3 171.0,490.0 C173.2,487.7 176.7,485.0 181.0,483.4 Z M542.5,320.6 C545.6,320.6 550.7,323.2 551.9,325.3 C553.1,327.4 550.0,330.4 549.5,333.0 C549.0,335.6 549.4,338.1 548.8,341.0 C548.1,343.9 546.6,347.2 545.6,350.3 C544.6,353.4 543.8,356.3 542.5,359.7 C541.2,363.1 539.4,366.7 537.8,370.6 C536.2,374.5 534.6,378.8 533.0,383.0 C531.4,387.2 529.9,391.7 528.4,395.6 C526.9,399.5 525.3,402.7 523.8,406.6 C522.2,410.5 520.3,417.7 519.0,419.0 C517.7,420.3 517.0,416.7 516.0,414.4 C515.0,412.1 514.6,407.9 512.8,405.0 C511.0,402.1 507.3,400.3 505.0,397.2 C502.7,394.1 499.8,389.9 498.8,386.2 C497.7,382.6 498.2,378.9 498.8,375.3 C499.3,371.7 500.4,368.3 501.9,364.4 C503.4,360.5 505.6,356.2 508.0,352.0 C510.4,347.8 513.1,342.8 516.0,339.4 C518.9,336.0 522.5,334.0 525.3,331.6 C528.1,329.2 530.1,327.1 533.0,325.3 C535.9,323.5 539.4,320.6 542.5,320.6 Z M517.2,523.0 C519.1,520.8 523.3,518.8 525.5,518.8 C527.7,518.8 531.8,521.9 534.0,523.0 C536.2,524.1 539.8,526.9 542.2,527.2 C544.6,527.5 549.8,525.8 552.0,525.5 C554.2,525.2 557.7,524.2 559.0,525.0 C560.3,525.8 562.3,529.1 562.0,531.3 C561.7,533.5 556.9,538.7 556.8,541.8 C556.7,544.9 559.7,551.2 561.0,554.3 C562.3,557.4 565.8,562.1 566.2,564.8 C566.6,567.4 564.7,571.8 564.0,574.0 C563.3,576.2 562.5,579.4 561.0,581.5 C559.5,583.6 555.2,587.6 552.7,589.8 C550.2,592.0 544.2,595.7 542.2,598.2 C540.2,600.7 538.7,606.1 538.0,608.6 C537.3,611.1 536.7,614.3 537.0,617.0 C537.3,619.7 539.1,625.7 540.0,628.5 C540.9,631.3 541.8,636.1 543.5,638.0 C545.2,639.9 550.0,642.0 552.7,643.0 C555.4,644.0 560.1,645.1 563.4,645.8 C566.7,646.5 574.4,646.4 577.5,648.0 C580.6,649.6 584.1,655.0 586.9,657.5 C589.7,660.0 596.1,664.7 598.6,666.9 C601.1,669.1 603.4,672.3 605.6,673.9 C607.8,675.5 614.1,677.3 615.0,678.6 C615.9,679.9 614.9,683.9 612.7,684.0 C610.5,684.1 602.0,681.4 598.6,679.5 C595.2,677.6 590.0,671.9 586.9,670.0 C583.8,668.1 577.5,665.3 575.0,665.5 C572.5,665.7 568.8,671.8 568.0,671.5 C567.2,671.2 570.2,665.1 569.0,663.0 C567.8,660.9 561.7,657.5 558.8,656.0 C555.8,654.5 549.5,651.6 547.0,651.5 C544.5,651.4 542.0,654.1 540.0,655.5 C538.0,656.9 534.0,660.9 532.0,662.0 C530.0,663.1 526.7,664.3 525.0,664.0 C523.3,663.7 520.3,661.6 519.0,660.0 C517.7,658.4 515.3,653.9 515.0,652.0 C514.7,650.1 516.1,646.9 517.0,646.0 C517.9,645.1 521.0,645.8 522.0,645.0 C523.0,644.2 524.9,641.6 524.5,640.0 C524.1,638.4 520.8,634.1 519.0,633.0 C517.2,631.9 512.7,631.1 511.0,631.5 C509.3,631.9 507.2,636.1 506.0,636.0 C504.8,635.9 503.3,632.3 502.0,631.0 C500.7,629.7 497.5,627.7 496.0,626.0 C494.5,624.3 491.8,620.7 491.0,618.0 C490.2,615.3 490.0,609.2 490.0,606.0 C490.0,602.8 490.5,596.7 491.0,594.0 C491.5,591.3 492.9,587.2 494.0,586.0 C495.1,584.8 497.8,584.2 499.0,585.0 C500.2,585.8 501.8,590.9 503.0,592.0 C504.2,593.1 507.3,593.9 508.0,593.0 C508.7,592.1 508.9,587.1 508.5,585.0 C508.1,582.9 505.5,579.1 505.0,577.0 C504.5,574.9 504.1,572.3 504.6,569.0 C505.1,565.7 508.0,556.7 508.8,552.2 C509.6,547.7 509.8,539.4 510.9,535.5 C512.0,531.6 515.3,525.2 517.2,523.0 Z M506.7,667.0 C507.7,665.6 514.8,667.2 519.0,669.0 C523.2,670.8 528.6,674.3 531.8,677.5 C535.0,680.7 537.3,684.2 538.0,688.0 C538.7,691.8 537.7,698.1 536.0,700.5 C534.3,702.9 530.1,704.0 527.6,702.6 C525.1,701.2 523.7,696.2 521.3,692.0 C518.9,687.8 515.4,681.7 513.0,677.5 C510.6,673.3 505.7,668.4 506.7,667.0 Z M613.0,656.0 C614.3,654.8 619.8,655.5 622.0,656.5 C624.2,657.5 626.3,660.2 626.0,662.0 C625.7,663.8 622.0,667.2 620.0,667.5 C618.0,667.8 615.2,665.9 614.0,664.0 C612.8,662.1 611.7,657.2 613.0,656.0 Z M549.0,667.0 C549.7,665.7 553.8,666.7 555.0,668.0 C556.2,669.3 556.7,673.7 556.0,675.0 C555.3,676.3 552.2,677.3 551.0,676.0 C549.8,674.7 548.3,668.3 549.0,667.0 Z M620.0,686.0 C623.7,683.7 634.7,686.0 640.0,688.0 C645.3,690.0 650.7,694.0 652.0,698.0 C653.3,702.0 652.0,709.3 648.0,712.0 C644.0,714.7 633.0,715.7 628.0,714.0 C623.0,712.3 619.3,706.7 618.0,702.0 C616.7,697.3 616.3,688.3 620.0,686.0 Z M560.0,692.0 C562.8,690.0 570.8,688.7 575.0,690.0 C579.2,691.3 584.2,696.3 585.0,700.0 C585.8,703.7 583.3,710.0 580.0,712.0 C576.7,714.0 568.7,713.7 565.0,712.0 C561.3,710.3 558.8,705.3 558.0,702.0 C557.2,698.7 557.2,694.0 560.0,692.0 Z M596.0,694.0 C597.3,692.0 604.3,693.7 606.0,696.0 C607.7,698.3 607.3,706.0 606.0,708.0 C604.7,710.0 599.7,710.3 598.0,708.0 C596.3,705.7 594.7,696.0 596.0,694.0 Z M590.0,700.0 C591.7,699.8 596.7,709.8 596.0,712.0 C595.3,714.2 587.0,715.0 586.0,713.0 C585.0,711.0 588.3,700.2 590.0,700.0 Z M468.0,340.0 C468.5,339.0 471.2,337.5 472.0,338.0 C472.8,338.5 473.5,342.0 473.0,343.0 C472.5,344.0 469.8,344.5 469.0,344.0 C468.2,343.5 467.5,341.0 468.0,340.0 Z M600.0,348.0 C600.7,347.3 603.3,346.5 604.0,347.0 C604.7,347.5 604.7,350.3 604.0,351.0 C603.3,351.7 600.7,351.5 600.0,351.0 C599.3,350.5 599.3,348.7 600.0,348.0 Z M614.0,344.0 C614.5,343.2 617.2,342.5 618.0,343.0 C618.8,343.5 619.5,346.2 619.0,347.0 C618.5,347.8 615.8,348.5 615.0,348.0 C614.2,347.5 613.5,344.8 614.0,344.0 Z M650.0,330.0 C650.5,329.5 653.2,329.5 654.0,330.0 C654.8,330.5 655.5,332.5 655.0,333.0 C654.5,333.5 651.8,333.5 651.0,333.0 C650.2,332.5 649.5,330.5 650.0,330.0 Z" fill="none" stroke="#b9c7a6" stroke-width="0.6"/>
<path d="M10.0,395.5 C15.5,394.8 32.7,393.2 43.0,391.0 C53.3,388.8 65.3,382.3 72.0,382.0 C78.7,381.7 77.2,386.8 83.0,389.0 C88.8,391.2 103.3,392.2 107.0,395.5 C110.7,398.8 103.8,404.6 105.0,409.0 C106.2,413.4 109.2,418.3 114.0,422.0 C118.8,425.7 128.5,429.2 134.0,431.0 C139.5,432.8 144.8,432.7 147.0,433.0" fill="none" stroke="#9b9cb8" stroke-width="0.8" opacity="0.8"/>
<path d="M55.0,470.0 C54.2,473.3 51.7,483.3 50.0,490.0 C48.3,496.7 43.3,503.3 45.0,510.0 C46.7,516.7 54.2,524.2 60.0,530.0 C65.8,535.8 73.3,540.8 80.0,545.0 C86.7,549.2 94.7,550.5 100.0,555.0 C105.3,559.5 107.8,566.2 112.0,572.0 C116.2,577.8 120.7,584.5 125.0,590.0 C129.3,595.5 135.5,600.3 138.0,605.0 C140.5,609.7 141.0,613.8 140.0,618.0 C139.0,622.2 134.5,626.0 132.0,630.0 C129.5,634.0 126.2,640.0 125.0,642.0" fill="none" stroke="#9b9cb8" stroke-width="0.8" opacity="0.8"/>
<path d="M10.0,641.0 C15.0,641.3 30.0,643.0 40.0,643.0 C50.0,643.0 60.8,640.7 70.0,641.0 C79.2,641.3 87.5,644.5 95.0,645.0 C102.5,645.5 110.0,644.5 115.0,644.0 C120.0,643.5 123.3,642.3 125.0,642.0" fill="none" stroke="#9b9cb8" stroke-width="0.8" opacity="0.8"/>
<path d="M125.0,642.0 C126.0,645.3 129.3,654.0 131.0,662.0 C132.7,670.0 134.0,681.3 135.0,690.0 C136.0,698.7 136.7,710.0 137.0,714.0" fill="none" stroke="#9b9cb8" stroke-width="0.8" opacity="0.8"/>
<path d="M10.0,548.0 C12.5,550.0 19.2,555.5 25.0,560.0 C30.8,564.5 40.0,568.3 45.0,575.0 C50.0,581.7 52.2,591.7 55.0,600.0 C57.8,608.3 59.5,618.2 62.0,625.0 C64.5,631.8 68.7,638.3 70.0,641.0" fill="none" stroke="#9b9cb8" stroke-width="0.8" opacity="0.8"/>
<path d="M228.0,305.0 C228.7,309.2 232.3,321.7 232.0,330.0 C231.7,338.3 226.3,346.7 226.0,355.0 C225.7,363.3 230.7,371.7 230.0,380.0 C229.3,388.3 224.0,396.7 222.0,405.0 C220.0,413.3 218.7,425.8 218.0,430.0" fill="none" stroke="#9b9cb8" stroke-width="0.8" opacity="0.8"/>
<path d="M395.0,305.0 C395.8,309.2 400.5,322.5 400.0,330.0 C399.5,337.5 392.3,342.5 392.0,350.0 C391.7,357.5 396.0,369.7 398.0,375.0 C400.0,380.3 403.0,380.8 404.0,382.0" fill="none" stroke="#9b9cb8" stroke-width="0.8" opacity="0.8"/>
<path d="M85,629 C86,645 88,660 87,681 C86,695 90,705 92,714" fill="none" stroke="#a8c8d8" stroke-width="1.1" opacity="0.8"/>
<ellipse cx="31" cy="683" rx="11" ry="4" transform="rotate(35 31 683)" fill="#a9c9d3"/>
<text x="38.5" y="328.6" font-size="6.8" text-anchor="middle" dominant-baseline="central" fill="#222" stroke="#fff" stroke-opacity="0.7" stroke-width="1.2" paint-order="stroke" style="font-family:Liberation Sans,Arial,sans-serif;font-weight:bold;">25N</text>
<text x="38.5" y="479.2" font-size="6.8" text-anchor="middle" dominant-baseline="central" fill="#222" stroke="#fff" stroke-opacity="0.7" stroke-width="1.2" paint-order="stroke" style="font-family:Liberation Sans,Arial,sans-serif;font-weight:bold;">20N</text>
<text x="38.5" y="624.6" font-size="6.8" text-anchor="middle" dominant-baseline="central" fill="#222" stroke="#fff" stroke-opacity="0.7" stroke-width="1.2" paint-order="stroke" style="font-family:Liberation Sans,Arial,sans-serif;font-weight:bold;">15N</text>
<text x="198.5" y="328.6" font-size="6.8" text-anchor="middle" dominant-baseline="central" fill="#222" stroke="#fff" stroke-opacity="0.7" stroke-width="1.2" paint-order="stroke" style="font-family:Liberation Sans,Arial,sans-serif;font-weight:bold;">25N</text>
<text x="198.5" y="479.2" font-size="6.8" text-anchor="middle" dominant-baseline="central" fill="#222" stroke="#fff" stroke-opacity="0.7" stroke-width="1.2" paint-order="stroke" style="font-family:Liberation Sans,Arial,sans-serif;font-weight:bold;">20N</text>
<text x="198.5" y="624.6" font-size="6.8" text-anchor="middle" dominant-baseline="central" fill="#222" stroke="#fff" stroke-opacity="0.7" stroke-width="1.2" paint-order="stroke" style="font-family:Liberation Sans,Arial,sans-serif;font-weight:bold;">15N</text>
<text x="365.2" y="328.6" font-size="6.8" text-anchor="middle" dominant-baseline="central" fill="#222" stroke="#fff" stroke-opacity="0.7" stroke-width="1.2" paint-order="stroke" style="font-family:Liberation Sans,Arial,sans-serif;font-weight:bold;">25N</text>
<text x="365.2" y="479.2" font-size="6.8" text-anchor="middle" dominant-baseline="central" fill="#222" stroke="#fff" stroke-opacity="0.7" stroke-width="1.2" paint-order="stroke" style="font-family:Liberation Sans,Arial,sans-serif;font-weight:bold;">20N</text>
<text x="365.2" y="624.6" font-size="6.8" text-anchor="middle" dominant-baseline="central" fill="#222" stroke="#fff" stroke-opacity="0.7" stroke-width="1.2" paint-order="stroke" style="font-family:Liberation Sans,Arial,sans-serif;font-weight:bold;">15N</text>
<text x="525" y="328.6" font-size="6.8" text-anchor="middle" dominant-baseline="central" fill="#222" stroke="#fff" stroke-opacity="0.7" stroke-width="1.2" paint-order="stroke" style="font-family:Liberation Sans,Arial,sans-serif;font-weight:bold;">25N</text>
<text x="525" y="479.2" font-size="6.8" text-anchor="middle" dominant-baseline="central" fill="#222" stroke="#fff" stroke-opacity="0.7" stroke-width="1.2" paint-order="stroke" style="font-family:Liberation Sans,Arial,sans-serif;font-weight:bold;">20N</text>
<text x="525" y="624.6" font-size="6.8" text-anchor="middle" dominant-baseline="central" fill="#222" stroke="#fff" stroke-opacity="0.7" stroke-width="1.2" paint-order="stroke" style="font-family:Liberation Sans,Arial,sans-serif;font-weight:bold;">15N</text>
<text x="691" y="328.6" font-size="6.8" text-anchor="middle" dominant-baseline="central" fill="#222" stroke="#fff" stroke-opacity="0.7" stroke-width="1.2" paint-order="stroke" style="font-family:Liberation Sans,Arial,sans-serif;font-weight:bold;">25N</text>
<text x="691" y="479.2" font-size="6.8" text-anchor="middle" dominant-baseline="central" fill="#222" stroke="#fff" stroke-opacity="0.7" stroke-width="1.2" paint-order="stroke" style="font-family:Liberation Sans,Arial,sans-serif;font-weight:bold;">20N</text>
<text x="691" y="624.6" font-size="6.8" text-anchor="middle" dominant-baseline="central" fill="#222" stroke="#fff" stroke-opacity="0.7" stroke-width="1.2" paint-order="stroke" style="font-family:Liberation Sans,Arial,sans-serif;font-weight:bold;">15N</text>
<text x="0" y="0" transform="translate(59.5,343.5) rotate(-90)" font-size="6.8" text-anchor="middle" dominant-baseline="central" fill="#222" stroke="#fff" stroke-opacity="0.7" stroke-width="1.2" paint-order="stroke" style="font-family:Liberation Sans,Arial,sans-serif;font-weight:bold;">105E</text>
<text x="0" y="0" transform="translate(59.5,505) rotate(-90)" font-size="6.8" text-anchor="middle" dominant-baseline="central" fill="#222" stroke="#fff" stroke-opacity="0.7" stroke-width="1.2" paint-order="stroke" style="font-family:Liberation Sans,Arial,sans-serif;font-weight:bold;">105E</text>
<text x="0" y="0" transform="translate(59.5,657) rotate(-90)" font-size="6.8" text-anchor="middle" dominant-baseline="central" fill="#222" stroke="#fff" stroke-opacity="0.7" stroke-width="1.2" paint-order="stroke" style="font-family:Liberation Sans,Arial,sans-serif;font-weight:bold;">105E</text>
<text x="0" y="0" transform="translate(204.8,343.5) rotate(-90)" font-size="6.8" text-anchor="middle" dominant-baseline="central" fill="#222" stroke="#fff" stroke-opacity="0.7" stroke-width="1.2" paint-order="stroke" style="font-family:Liberation Sans,Arial,sans-serif;font-weight:bold;">110E</text>
<text x="0" y="0" transform="translate(204.8,505) rotate(-90)" font-size="6.8" text-anchor="middle" dominant-baseline="central" fill="#222" stroke="#fff" stroke-opacity="0.7" stroke-width="1.2" paint-order="stroke" style="font-family:Liberation Sans,Arial,sans-serif;font-weight:bold;">110E</text>
<text x="0" y="0" transform="translate(204.8,657) rotate(-90)" font-size="6.8" text-anchor="middle" dominant-baseline="central" fill="#222" stroke="#fff" stroke-opacity="0.7" stroke-width="1.2" paint-order="stroke" style="font-family:Liberation Sans,Arial,sans-serif;font-weight:bold;">110E</text>
<text x="0" y="0" transform="translate(349.6,343.5) rotate(-90)" font-size="6.8" text-anchor="middle" dominant-baseline="central" fill="#222" stroke="#fff" stroke-opacity="0.7" stroke-width="1.2" paint-order="stroke" style="font-family:Liberation Sans,Arial,sans-serif;font-weight:bold;">115E</text>
<text x="0" y="0" transform="translate(349.6,505) rotate(-90)" font-size="6.8" text-anchor="middle" dominant-baseline="central" fill="#222" stroke="#fff" stroke-opacity="0.7" stroke-width="1.2" paint-order="stroke" style="font-family:Liberation Sans,Arial,sans-serif;font-weight:bold;">115E</text>
<text x="0" y="0" transform="translate(349.6,657) rotate(-90)" font-size="6.8" text-anchor="middle" dominant-baseline="central" fill="#222" stroke="#fff" stroke-opacity="0.7" stroke-width="1.2" paint-order="stroke" style="font-family:Liberation Sans,Arial,sans-serif;font-weight:bold;">115E</text>
<text x="0" y="0" transform="translate(494.8,343.5) rotate(-90)" font-size="6.8" text-anchor="middle" dominant-baseline="central" fill="#222" stroke="#fff" stroke-opacity="0.7" stroke-width="1.2" paint-order="stroke" style="font-family:Liberation Sans,Arial,sans-serif;font-weight:bold;">120E</text>
<text x="0" y="0" transform="translate(494.8,505) rotate(-90)" font-size="6.8" text-anchor="middle" dominant-baseline="central" fill="#222" stroke="#fff" stroke-opacity="0.7" stroke-width="1.2" paint-order="stroke" style="font-family:Liberation Sans,Arial,sans-serif;font-weight:bold;">120E</text>
<text x="0" y="0" transform="translate(494.8,657) rotate(-90)" font-size="6.8" text-anchor="middle" dominant-baseline="central" fill="#222" stroke="#fff" stroke-opacity="0.7" stroke-width="1.2" paint-order="stroke" style="font-family:Liberation Sans,Arial,sans-serif;font-weight:bold;">120E</text>
<text x="0" y="0" transform="translate(640.2,343.5) rotate(-90)" font-size="6.8" text-anchor="middle" dominant-baseline="central" fill="#222" stroke="#fff" stroke-opacity="0.7" stroke-width="1.2" paint-order="stroke" style="font-family:Liberation Sans,Arial,sans-serif;font-weight:bold;">125E</text>
<text x="0" y="0" transform="translate(640.2,505) rotate(-90)" font-size="6.8" text-anchor="middle" dominant-baseline="central" fill="#222" stroke="#fff" stroke-opacity="0.7" stroke-width="1.2" paint-order="stroke" style="font-family:Liberation Sans,Arial,sans-serif;font-weight:bold;">125E</text>
<text x="0" y="0" transform="translate(640.2,657) rotate(-90)" font-size="6.8" text-anchor="middle" dominant-baseline="central" fill="#222" stroke="#fff" stroke-opacity="0.7" stroke-width="1.2" paint-order="stroke" style="font-family:Liberation Sans,Arial,sans-serif;font-weight:bold;">125E</text>
<circle cx="24.6" cy="312.2" r="1.4" fill="#111"/>
<text x="16.5" y="309.6" font-size="5.6" fill="#5a5a5a" stroke="#fff" stroke-opacity="0.6" stroke-width="1.2" paint-order="stroke" style="font-family:Liberation Sans,Arial,sans-serif">Qujing</text>
<circle cx="57.2" cy="325.2" r="1.4" fill="#111"/>
<text x="49" y="321.6" font-size="5.6" fill="#5a5a5a" stroke="#fff" stroke-opacity="0.6" stroke-width="1.2" paint-order="stroke" style="font-family:Liberation Sans,Arial,sans-serif">Xingyi</text>
<circle cx="106.7" cy="361.3" r="1.4" fill="#111"/>
<text x="99.5" y="358" font-size="5.6" fill="#5a5a5a" stroke="#fff" stroke-opacity="0.6" stroke-width="1.2" paint-order="stroke" style="font-family:Liberation Sans,Arial,sans-serif">Baise</text>
<circle cx="165.6" cy="343.4" r="1.4" fill="#111"/>
<text x="157" y="339.6" font-size="5.6" fill="#5a5a5a" stroke="#fff" stroke-opacity="0.6" stroke-width="1.2" paint-order="stroke" style="font-family:Liberation Sans,Arial,sans-serif">Hechi</text>
<circle cx="188" cy="348.3" r="1.4" fill="#111"/>
<text x="177.6" y="345.4" font-size="5.6" fill="#5a5a5a" stroke="#fff" stroke-opacity="0.6" stroke-width="1.2" paint-order="stroke" style="font-family:Liberation Sans,Arial,sans-serif">Liuzhou</text>
<circle cx="212.8" cy="319.6" r="1.4" fill="#111"/>
<text x="204.7" y="316.8" font-size="5.6" fill="#5a5a5a" stroke="#fff" stroke-opacity="0.6" stroke-width="1.2" paint-order="stroke" style="font-family:Liberation Sans,Arial,sans-serif">Guilin</text>
<circle cx="242.4" cy="342.4" r="1.4" fill="#111"/>
<text x="227.5" y="339.6" font-size="5.6" fill="#5a5a5a" stroke="#fff" stroke-opacity="0.6" stroke-width="1.2" paint-order="stroke" style="font-family:Liberation Sans,Arial,sans-serif">Zhongshan</text>
<circle cx="241.8" cy="374.3" r="1.4" fill="#111"/>
<text x="231.4" y="371.1" font-size="5.6" fill="#5a5a5a" stroke="#fff" stroke-opacity="0.6" stroke-width="1.2" paint-order="stroke" style="font-family:Liberation Sans,Arial,sans-serif">Wuzhou</text>
<circle cx="193" cy="385.4" r="1.4" fill="#111"/>
<text x="181.6" y="382.8" font-size="5.6" fill="#5a5a5a" stroke="#fff" stroke-opacity="0.6" stroke-width="1.2" paint-order="stroke" style="font-family:Liberation Sans,Arial,sans-serif">Guigang</text>
<circle cx="157.1" cy="394.5" r="1.4" fill="#111"/>
<text x="145" y="391.6" font-size="5.6" fill="#5a5a5a" stroke="#fff" stroke-opacity="0.6" stroke-width="1.2" paint-order="stroke" style="font-family:Liberation Sans,Arial,sans-serif">Nanning</text>
<circle cx="209.2" cy="400" r="1.4" fill="#111"/>
<text x="202.7" y="396.2" font-size="5.6" fill="#5a5a5a" stroke="#fff" stroke-opacity="0.6" stroke-width="1.2" paint-order="stroke" style="font-family:Liberation Sans,Arial,sans-serif">Yulin</text>
<circle cx="36.7" cy="377.3" r="1.4" fill="#111"/>
<text x="26.3" y="375.4" font-size="5.6" fill="#5a5a5a" stroke="#fff" stroke-opacity="0.6" stroke-width="1.2" paint-order="stroke" style="font-family:Liberation Sans,Arial,sans-serif">Wenshan</text>
<circle cx="128.2" cy="407.5" r="1.4" fill="#111"/>
<text x="110.3" y="404" font-size="5.6" fill="#5a5a5a" stroke="#fff" stroke-opacity="0.6" stroke-width="1.2" paint-order="stroke" style="font-family:Liberation Sans,Arial,sans-serif">Chongzuo City</text>
<circle cx="164.6" cy="419" r="1.4" fill="#111"/>
<text x="154.5" y="417" font-size="5.6" fill="#5a5a5a" stroke="#fff" stroke-opacity="0.6" stroke-width="1.2" paint-order="stroke" style="font-family:Liberation Sans,Arial,sans-serif">Qinzhou</text>
<circle cx="382.2" cy="350.4" r="1.4" fill="#111"/>
<text x="370.3" y="345.6" font-size="5.6" fill="#5a5a5a" stroke="#fff" stroke-opacity="0.6" stroke-width="1.2" paint-order="stroke" style="font-family:Liberation Sans,Arial,sans-serif">Meizhou</text>
<circle cx="426.2" cy="342.6" r="1.4" fill="#111"/>
<text x="411" y="339.5" font-size="5.6" fill="#5a5a5a" stroke="#fff" stroke-opacity="0.6" stroke-width="1.2" paint-order="stroke" style="font-family:Liberation Sans,Arial,sans-serif">Zhangzhou</text>
<circle cx="456.7" cy="331.8" r="1.4" fill="#111"/>
<text x="443" y="328.7" font-size="5.6" fill="#5a5a5a" stroke="#fff" stroke-opacity="0.6" stroke-width="1.2" paint-order="stroke" style="font-family:Liberation Sans,Arial,sans-serif">Quanzhou</text>
<circle cx="466" cy="313.9" r="1.4" fill="#111"/>
<text x="456.7" y="310.8" font-size="5.6" fill="#5a5a5a" stroke="#fff" stroke-opacity="0.6" stroke-width="1.2" paint-order="stroke" style="font-family:Liberation Sans,Arial,sans-serif">Putian</text>
<circle cx="399.1" cy="378.2" r="1.4" fill="#111"/>
<text x="387.3" y="374" font-size="5.6" fill="#5a5a5a" stroke="#fff" stroke-opacity="0.6" stroke-width="1.2" paint-order="stroke" style="font-family:Liberation Sans,Arial,sans-serif">Shantou</text>
<circle cx="360.2" cy="395.8" r="1.4" fill="#111"/>
<text x="361.9" y="393" font-size="5.6" fill="#5a5a5a" stroke="#fff" stroke-opacity="0.6" stroke-width="1.2" paint-order="stroke" style="font-family:Liberation Sans,Arial,sans-serif">Shanwei</text>
<circle cx="333.1" cy="385.6" r="1.4" fill="#111"/>
<text x="321.2" y="382.5" font-size="5.6" fill="#5a5a5a" stroke="#fff" stroke-opacity="0.6" stroke-width="1.2" paint-order="stroke" style="font-family:Liberation Sans,Arial,sans-serif">Huizhou</text>
<circle cx="276.2" cy="387.7" r="1.4" fill="#111"/>
<text x="263.7" y="384.2" font-size="5.6" fill="#5a5a5a" stroke="#fff" stroke-opacity="0.6" stroke-width="1.2" paint-order="stroke" style="font-family:Liberation Sans,Arial,sans-serif">Zhaoqing</text>
<circle cx="294.2" cy="401.2" r="1.4" fill="#111"/>
<text x="264.4" y="399.8" font-size="5.6" fill="#5a5a5a" stroke="#fff" stroke-opacity="0.6" stroke-width="1.2" paint-order="stroke" style="font-family:Liberation Sans,Arial,sans-serif">Jiangmen</text>
<circle cx="262" cy="422.9" r="1.4" fill="#111"/>
<text x="248.5" y="420.1" font-size="5.6" fill="#5a5a5a" stroke="#fff" stroke-opacity="0.6" stroke-width="1.2" paint-order="stroke" style="font-family:Liberation Sans,Arial,sans-serif">Yangjiang</text>
<circle cx="231.25" cy="429" r="1.4" fill="#111"/>
<text x="219.5" y="426.8" font-size="5.6" fill="#5a5a5a" stroke="#fff" stroke-opacity="0.6" stroke-width="1.2" paint-order="stroke" style="font-family:Liberation Sans,Arial,sans-serif">Maoming</text>
<circle cx="514" cy="353.5" r="1.4" fill="#111"/>
<text x="500.7" y="350.4" font-size="5.6" fill="#5a5a5a" stroke="#fff" stroke-opacity="0.6" stroke-width="1.2" paint-order="stroke" style="font-family:Liberation Sans,Arial,sans-serif">Taichung</text>
<circle cx="504.2" cy="400.6" r="1.4" fill="#111"/>
<text x="490" y="397.2" font-size="5.6" fill="#5a5a5a" stroke="#fff" stroke-opacity="0.6" stroke-width="1.2" paint-order="stroke" style="font-family:Liberation Sans,Arial,sans-serif">Kaohsiung</text>
<circle cx="512.6" cy="531.7" r="1.4" fill="#111"/>
<text x="506.3" y="529.2" font-size="5.6" fill="#5a5a5a" stroke="#fff" stroke-opacity="0.6" stroke-width="1.2" paint-order="stroke" style="font-family:Liberation Sans,Arial,sans-serif">Laoag</text>
<circle cx="506.7" cy="549.5" r="1.4" fill="#111"/>
<text x="501.5" y="547" font-size="5.6" fill="#5a5a5a" stroke="#fff" stroke-opacity="0.6" stroke-width="1.2" paint-order="stroke" style="font-family:Liberation Sans,Arial,sans-serif">Vigan</text>
<circle cx="543.9" cy="547.6" r="1.4" fill="#111"/>
<text x="536" y="545.9" font-size="5.6" fill="#5a5a5a" stroke="#fff" stroke-opacity="0.6" stroke-width="1.2" paint-order="stroke" style="font-family:Liberation Sans,Arial,sans-serif">Tuguegarao</text>
<circle cx="550.2" cy="562.2" r="1.4" fill="#111"/>
<text x="542.2" y="560" font-size="5.6" fill="#5a5a5a" stroke="#fff" stroke-opacity="0.6" stroke-width="1.2" paint-order="stroke" style="font-family:Liberation Sans,Arial,sans-serif">Ilagan</text>
<circle cx="540" cy="575.8" r="1.4" fill="#111"/>
<text x="530.7" y="574" font-size="5.6" fill="#5a5a5a" stroke="#fff" stroke-opacity="0.6" stroke-width="1.2" paint-order="stroke" style="font-family:Liberation Sans,Arial,sans-serif">Santiago</text>
<circle cx="512.6" cy="583.6" r="1.4" fill="#111"/>
<text x="504.6" y="581" font-size="5.6" fill="#5a5a5a" stroke="#fff" stroke-opacity="0.6" stroke-width="1.2" paint-order="stroke" style="font-family:Liberation Sans,Arial,sans-serif">Baguio</text>
<circle cx="517.2" cy="565.2" r="1.4" fill="#111"/>
<text x="505.7" y="562.6" font-size="5.6" fill="#5a5a5a" stroke="#fff" stroke-opacity="0.6" stroke-width="1.2" paint-order="stroke" style="font-family:Liberation Sans,Arial,sans-serif">Mountain</text>
<circle cx="511.9" cy="610.3" r="1.4" fill="#111"/>
<text x="499.4" y="608" font-size="5.6" fill="#5a5a5a" stroke="#fff" stroke-opacity="0.6" stroke-width="1.2" paint-order="stroke" style="font-family:Liberation Sans,Arial,sans-serif">Tarlac City</text>
<circle cx="526" cy="660.4" r="1.4" fill="#111"/>
<text x="508.8" y="657.6" font-size="5.6" fill="#5a5a5a" stroke="#fff" stroke-opacity="0.6" stroke-width="1.2" paint-order="stroke" style="font-family:Liberation Sans,Arial,sans-serif">Batangas City</text>
<circle cx="603.7" cy="677.6" r="1.4" fill="#111"/>
<text x="593.9" y="675.9" font-size="5.6" fill="#5a5a5a" stroke="#fff" stroke-opacity="0.6" stroke-width="1.2" paint-order="stroke" style="font-family:Liberation Sans,Arial,sans-serif">Legazpi</text>
<circle cx="81.6" cy="484.3" r="1.4" fill="#111"/>
<text x="69.4" y="482.4" font-size="5.6" fill="#5a5a5a" stroke="#fff" stroke-opacity="0.6" stroke-width="1.2" paint-order="stroke" style="font-family:Liberation Sans,Arial,sans-serif">Thanh Hoa</text>
<circle cx="79.8" cy="517.7" r="1.4" fill="#111"/>
<text x="84" y="515" font-size="5.6" fill="#5a5a5a" stroke="#fff" stroke-opacity="0.6" stroke-width="1.2" paint-order="stroke" style="font-family:Liberation Sans,Arial,sans-serif">Vinh</text>
<circle cx="20.9" cy="525.5" r="1.4" fill="#111"/>
<text x="11.3" y="523.6" font-size="5.6" fill="#5a5a5a" stroke="#fff" stroke-opacity="0.6" stroke-width="1.2" paint-order="stroke" style="font-family:Liberation Sans,Arial,sans-serif">Pakxan</text>
<circle cx="120.7" cy="572" r="1.4" fill="#111"/>
<text x="110.3" y="570.4" font-size="5.6" fill="#5a5a5a" stroke="#fff" stroke-opacity="0.6" stroke-width="1.2" paint-order="stroke" style="font-family:Liberation Sans,Arial,sans-serif">Dong Hoi</text>
<circle cx="52.4" cy="579.4" r="1.4" fill="#111"/>
<text x="38.6" y="577.5" font-size="5.6" fill="#5a5a5a" stroke="#fff" stroke-opacity="0.6" stroke-width="1.2" paint-order="stroke" style="font-family:Liberation Sans,Arial,sans-serif">Savannakhet</text>
<circle cx="152.7" cy="594" r="1.4" fill="#111"/>
<text x="141.5" y="591.3" font-size="5.6" fill="#5a5a5a" stroke="#fff" stroke-opacity="0.6" stroke-width="1.2" paint-order="stroke" style="font-family:Liberation Sans,Arial,sans-serif">Da Nang</text>
<circle cx="56.1" cy="618.4" r="1.4" fill="#111"/>
<text x="42.5" y="615.8" font-size="5.6" fill="#5a5a5a" stroke="#fff" stroke-opacity="0.6" stroke-width="1.2" paint-order="stroke" style="font-family:Liberation Sans,Arial,sans-serif">Ubon Ratchathani</text>
<circle cx="82.9" cy="621" r="1.4" fill="#111"/>
<text x="77.2" y="619.7" font-size="5.6" fill="#5a5a5a" stroke="#fff" stroke-opacity="0.6" stroke-width="1.2" paint-order="stroke" style="font-family:Liberation Sans,Arial,sans-serif">Pakse</text>
<circle cx="109.7" cy="614" r="1.4" fill="#111"/>
<text x="99.8" y="612" font-size="5.6" fill="#5a5a5a" stroke="#fff" stroke-opacity="0.6" stroke-width="1.2" paint-order="stroke" style="font-family:Liberation Sans,Arial,sans-serif">Kon Tum</text>
<circle cx="170.2" cy="621" r="1.4" fill="#111"/>
<text x="155.8" y="618.6" font-size="5.6" fill="#5a5a5a" stroke="#fff" stroke-opacity="0.6" stroke-width="1.2" paint-order="stroke" style="font-family:Liberation Sans,Arial,sans-serif">Quang Ngai</text>
<circle cx="112.9" cy="630" r="1.4" fill="#111"/>
<text x="102.4" y="627.7" font-size="5.6" fill="#5a5a5a" stroke="#fff" stroke-opacity="0.6" stroke-width="1.2" paint-order="stroke" style="font-family:Liberation Sans,Arial,sans-serif">Attapeu</text>
<circle cx="87.6" cy="666.9" r="1.4" fill="#111"/>
<text x="72" y="664.7" font-size="5.6" fill="#5a5a5a" stroke="#fff" stroke-opacity="0.6" stroke-width="1.2" paint-order="stroke" style="font-family:Liberation Sans,Arial,sans-serif">Stung Treng</text>
<circle cx="26.9" cy="671.8" r="1.4" fill="#111"/>
<text x="29.5" y="673.8" font-size="5.6" fill="#5a5a5a" stroke="#fff" stroke-opacity="0.6" stroke-width="1.2" paint-order="stroke" style="font-family:Liberation Sans,Arial,sans-serif">Siem Reap</text>
<circle cx="148" cy="690.8" r="1.4" fill="#111"/>
<text x="128.5" y="688.1" font-size="5.6" fill="#5a5a5a" stroke="#fff" stroke-opacity="0.6" stroke-width="1.2" paint-order="stroke" style="font-family:Liberation Sans,Arial,sans-serif">Buon Ma Thuot</text>
<circle cx="158" cy="711" r="1.4" fill="#111"/>
<text x="151.9" y="709.5" font-size="5.6" fill="#5a5a5a" stroke="#fff" stroke-opacity="0.6" stroke-width="1.2" paint-order="stroke" style="font-family:Liberation Sans,Arial,sans-serif">Dalat</text>
<circle cx="192.8" cy="493" r="1.4" fill="#111"/>
<text x="174.6" y="490.5" font-size="5.6" fill="#5a5a5a" stroke="#fff" stroke-opacity="0.6" stroke-width="1.2" paint-order="stroke" style="font-family:Liberation Sans,Arial,sans-serif">Danzhou City</text>
<circle cx="190.6" cy="529.5" r="1.4" fill="#111"/>
<text x="182.8" y="527.6" font-size="5.6" fill="#5a5a5a" stroke="#fff" stroke-opacity="0.6" stroke-width="1.2" paint-order="stroke" style="font-family:Liberation Sans,Arial,sans-serif">Sanya</text>
<circle cx="84.3" cy="448.3" r="1.4" fill="#111"/>
<text x="76.7" y="445.3" font-size="5.6" fill="#5a5a5a" stroke="#fff" stroke-opacity="0.6" stroke-width="1.2" paint-order="stroke" style="font-family:Liberation Sans,Arial,sans-serif">Hanoi</text>
<circle cx="84" cy="431" r="1.4" fill="#111"/>
<text x="68.3" y="428.7" font-size="5.6" fill="#5a5a5a" stroke="#fff" stroke-opacity="0.6" stroke-width="1.2" paint-order="stroke" style="font-family:Liberation Sans,Arial,sans-serif">Thai Nguyen</text>
<circle cx="120" cy="450.7" r="1.4" fill="#111"/>
<text x="110" y="447.7" font-size="5.6" fill="#5a5a5a" stroke="#fff" stroke-opacity="0.6" stroke-width="1.2" paint-order="stroke" style="font-family:Liberation Sans,Arial,sans-serif">Ha Long</text>
<circle cx="93.3" cy="465.7" r="1.4" fill="#111"/>
<text x="80" y="463.7" font-size="5.6" fill="#5a5a5a" stroke="#fff" stroke-opacity="0.6" stroke-width="1.2" paint-order="stroke" style="font-family:Liberation Sans,Arial,sans-serif">Nam Dinh</text>
<circle cx="29.3" cy="404" r="1.4" fill="#111"/>
<text x="13" y="401" font-size="5.6" fill="#5a5a5a" stroke="#fff" stroke-opacity="0.6" stroke-width="1.2" paint-order="stroke" style="font-family:Liberation Sans,Arial,sans-serif">Lao Cai</text>
<circle cx="210.6" cy="477.5" r="1.4" fill="#111"/>
<circle cx="540.3" cy="327.3" r="2" fill="#fff" stroke="#111" stroke-width="0.9"/><circle cx="540.3" cy="327.3" r="0.8" fill="#111"/>
<circle cx="523.8" cy="635.8" r="2" fill="#fff" stroke="#111" stroke-width="0.9"/><circle cx="523.8" cy="635.8" r="0.8" fill="#111"/>
<text x="543" y="324.5" font-size="5.6" fill="#5a5a5a" style="font-family:Liberation Sans,Arial,sans-serif">Taipei</text>
<text x="502.5" y="634" font-size="5.6" fill="#5a5a5a" style="font-family:Liberation Sans,Arial,sans-serif">Manila</text>
<text x="537" y="634.8" font-size="5.6" fill="#777" style="font-family:Liberation Sans,Arial,sans-serif">Luzon</text>
<text x="151.6" y="371.5" font-size="6.6" fill="#6a6f80" font-weight="normal" letter-spacing="0.5" stroke="#fff" stroke-opacity="0.5" stroke-width="1.5" paint-order="stroke" style="font-family:Liberation Sans,Arial,sans-serif">GUANGXI</text>
<text x="300.3" y="361.5" font-size="6.4" fill="#6a6f80" font-weight="normal" letter-spacing="0.3" stroke="#fff" stroke-opacity="0.5" stroke-width="1.5" paint-order="stroke" style="font-family:Liberation Sans,Arial,sans-serif">GUANGDONG</text>
<text x="183.7" y="505.5" font-size="5.6" fill="#888" font-weight="normal" letter-spacing="0.4" stroke="#fff" stroke-opacity="0.5" stroke-width="1.5" paint-order="stroke" style="font-family:Liberation Sans,Arial,sans-serif">HAINAN</text>
<text x="303.6" y="414.5" font-size="8.9" fill="#333" font-weight="normal" letter-spacing="0" stroke="#fff" stroke-opacity="0.5" stroke-width="1.5" paint-order="stroke" style="font-family:Liberation Sans,Arial,sans-serif">Hong Kong</text>
<text x="506.6" y="369.5" font-size="9.9" fill="#333" font-weight="normal" letter-spacing="0" stroke="#fff" stroke-opacity="0.5" stroke-width="1.5" paint-order="stroke" style="font-family:Liberation Sans,Arial,sans-serif">Taiwan</text>
<text x="133.7" y="648.5" font-size="11.8" fill="#333" font-weight="bold" letter-spacing="0" stroke="#fff" stroke-opacity="0.5" stroke-width="1.5" paint-order="stroke" style="font-family:Liberation Sans,Arial,sans-serif">Vietnam</text>
<text x="29.5" y="702" font-size="11.6" fill="#333" font-weight="bold" letter-spacing="0" stroke="#fff" stroke-opacity="0.5" stroke-width="1.5" paint-order="stroke" style="font-family:Liberation Sans,Arial,sans-serif">Cambodia</text>
<text x="0" y="0" transform="translate(103,504) rotate(-34)" font-size="10.5" fill="#fff" fill-opacity="0.6" letter-spacing="1.6" style="font-family:Liberation Sans,Arial,sans-serif;font-style:italic">Gulf of Tonkin</text>
<text x="0" y="0" transform="translate(347.5,674) rotate(-80)" font-size="12.5" fill="#fff" fill-opacity="0.55" letter-spacing="2.4" style="font-family:Liberation Sans,Arial,sans-serif;font-style:italic">South China Sea</text>
<path d="M237.1,475.9 C240.3,470.3 248.4,460.8 253.9,456.0 C259.4,451.2 265.2,449.1 270.0,447.0 C274.8,444.9 276.5,446.2 282.5,443.2 C288.5,440.2 298.2,433.1 306.0,428.9 C313.8,424.7 321.2,421.3 329.4,417.9 C337.6,414.5 345.8,410.8 355.4,408.5 C364.9,406.2 375.9,405.1 386.7,404.1 C397.5,403.1 409.4,402.2 420.0,402.3 C430.6,402.4 440.8,402.9 450.0,405.0 C459.2,407.1 467.5,410.8 475.0,415.0 C482.5,419.2 489.6,424.2 495.0,430.0 C500.4,435.8 504.7,444.4 507.7,450.0 C510.7,455.6 510.9,456.9 513.2,463.7 C515.5,470.5 519.1,481.9 521.4,491.0 C523.7,500.1 526.2,510.6 526.9,518.4 C527.6,526.1 526.9,531.1 525.5,537.5 C524.1,543.9 522.1,551.1 518.7,556.6 C515.3,562.1 510.9,566.2 505.0,570.3 C499.1,574.4 490.4,579.0 483.1,581.3 C475.8,583.6 468.6,584.5 461.3,584.0 C454.0,583.5 447.6,582.1 439.4,578.5 C431.2,574.9 421.1,567.6 412.0,562.1 C402.9,556.6 393.8,550.2 384.7,545.7 C375.6,541.2 365.9,537.2 357.3,534.8 C348.7,532.4 339.7,532.7 333.0,531.5 C326.3,530.3 323.1,528.6 317.2,527.6 C311.3,526.6 304.2,525.9 297.7,525.7 C291.2,525.5 284.6,526.6 278.1,526.6 C271.6,526.6 264.8,526.2 258.6,525.7 C252.4,525.2 244.4,524.9 241.0,523.7 C237.6,522.6 239.1,521.9 238.1,518.8 C237.1,515.7 235.8,510.1 235.2,505.2 C234.6,500.3 234.5,494.4 234.8,489.5 C235.1,484.6 233.9,481.5 237.1,475.9 Z" fill="#3ff03a" fill-opacity="0.45"/>
<path d="M461.0,536.0 C461.4,534.2 462.1,533.1 458.5,529.3 C454.9,525.4 447.1,517.9 439.4,512.9 C431.6,507.9 423.4,503.1 412.0,499.2 C400.6,495.3 384.7,492.0 371.0,489.6 C357.3,487.2 345.5,486.1 330.0,485.0 C314.5,483.9 293.8,483.4 278.0,483.3 C262.2,483.2 248.2,483.6 235.2,484.6 C222.2,485.6 211.5,487.8 200.0,489.5 C188.5,491.2 176.2,491.3 166.2,494.7 C156.2,498.1 146.5,504.1 140.0,510.0 C133.5,515.9 129.3,523.7 127.0,530.0 C124.7,536.3 125.5,541.9 126.0,548.0 C126.5,554.1 126.8,560.7 130.0,566.4 C133.2,572.1 139.4,577.7 145.4,582.0 C151.4,586.3 158.4,590.7 166.2,592.4 C174.1,594.1 185.0,593.5 192.3,592.4 C199.6,591.3 202.6,590.0 210.0,585.9 C217.4,581.8 228.9,573.6 237.0,568.0 C245.1,562.4 250.1,556.6 258.6,552.0 C267.1,547.4 278.1,543.9 287.9,540.3 C297.7,536.7 306.8,533.1 317.2,530.5 C327.6,527.9 341.0,525.4 350.0,524.7 C359.0,524.1 362.0,525.6 371.0,526.6 C380.0,527.6 392.4,528.7 403.8,530.7 C415.2,532.8 430.7,537.3 439.4,538.9 C448.1,540.5 452.2,540.7 455.8,540.2 C459.4,539.7 460.6,537.8 461.0,536.0 Z" fill="#ffffff" fill-opacity="0.22"/>
<path d="M237.1,475.9 C240.3,470.3 248.4,460.8 253.9,456.0 C259.4,451.2 265.2,449.1 270.0,447.0 C274.8,444.9 276.5,446.2 282.5,443.2 C288.5,440.2 298.2,433.1 306.0,428.9 C313.8,424.7 321.2,421.3 329.4,417.9 C337.6,414.5 345.8,410.8 355.4,408.5 C364.9,406.2 375.9,405.1 386.7,404.1 C397.5,403.1 409.4,402.2 420.0,402.3 C430.6,402.4 440.8,402.9 450.0,405.0 C459.2,407.1 467.5,410.8 475.0,415.0 C482.5,419.2 489.6,424.2 495.0,430.0 C500.4,435.8 504.7,444.4 507.7,450.0 C510.7,455.6 510.9,456.9 513.2,463.7 C515.5,470.5 519.1,481.9 521.4,491.0 C523.7,500.1 526.2,510.6 526.9,518.4 C527.6,526.1 526.9,531.1 525.5,537.5 C524.1,543.9 522.1,551.1 518.7,556.6 C515.3,562.1 510.9,566.2 505.0,570.3 C499.1,574.4 490.4,579.0 483.1,581.3 C475.8,583.6 468.6,584.5 461.3,584.0 C454.0,583.5 447.6,582.1 439.4,578.5 C431.2,574.9 421.1,567.6 412.0,562.1 C402.9,556.6 393.8,550.2 384.7,545.7 C375.6,541.2 365.9,537.2 357.3,534.8 C348.7,532.4 339.7,532.7 333.0,531.5 C326.3,530.3 323.1,528.6 317.2,527.6 C311.3,526.6 304.2,525.9 297.7,525.7 C291.2,525.5 284.6,526.6 278.1,526.6 C271.6,526.6 264.8,526.2 258.6,525.7 C252.4,525.2 244.4,524.9 241.0,523.7 C237.6,522.6 239.1,521.9 238.1,518.8 C237.1,515.7 235.8,510.1 235.2,505.2 C234.6,500.3 234.5,494.4 234.8,489.5 C235.1,484.6 233.9,481.5 237.1,475.9 Z" fill="none" stroke="#2ee62e" stroke-width="1.9"/>
<path d="M343.7,499.2 C345.8,496.0 350.5,491.0 357.3,489.6 C364.1,488.2 375.6,490.1 384.7,491.0 C393.8,491.9 402.9,493.3 412.0,495.1 C421.1,496.9 429.4,499.9 439.4,502.0 C449.4,504.1 464.4,505.1 472.2,507.4 C479.9,509.7 482.5,512.4 485.9,515.6 C489.3,518.8 491.6,523.0 492.7,526.6 C493.8,530.2 493.8,533.4 492.7,537.5 C491.6,541.6 489.3,547.3 485.9,551.2 C482.5,555.1 476.8,558.4 472.2,560.7 C467.6,563.0 464.0,564.8 458.5,564.8 C453.0,564.8 447.1,564.3 439.4,560.7 C431.6,557.1 421.1,548.7 412.0,543.0 C402.9,537.3 393.8,531.2 384.7,526.6 C375.6,522.0 363.9,518.6 357.3,515.6 C350.7,512.6 347.3,511.5 345.0,508.8 C342.7,506.1 341.6,502.4 343.7,499.2 Z" fill="#e8f040" fill-opacity="0.38" stroke="#f2f000" stroke-width="1.8"/>
<path d="M401.1,515.6 C402.0,513.3 406.1,509.9 409.3,508.8 C412.5,507.7 414.3,507.4 420.2,508.8 C426.1,510.2 437.1,514.5 444.8,517.0 C452.6,519.5 461.2,521.3 466.7,523.8 C472.2,526.3 475.9,528.8 477.7,532.0 C479.5,535.2 479.1,539.8 477.7,543.0 C476.3,546.2 472.2,549.5 469.5,551.2 C466.8,552.9 465.4,554.3 461.3,553.4 C457.2,552.5 451.7,549.3 444.8,545.7 C437.9,542.1 427.0,535.9 420.2,532.0 C413.4,528.1 407.0,525.2 403.8,522.5 C400.6,519.8 400.2,517.9 401.1,515.6 Z" fill="#c87a3a" fill-opacity="0.55" stroke="#ee2020" stroke-width="1.9"/>
<path d="M461.0,536.0 C461.4,534.2 462.1,533.1 458.5,529.3 C454.9,525.4 447.1,517.9 439.4,512.9 C431.6,507.9 423.4,503.1 412.0,499.2 C400.6,495.3 384.7,492.0 371.0,489.6 C357.3,487.2 345.5,486.1 330.0,485.0 C314.5,483.9 293.8,483.4 278.0,483.3 C262.2,483.2 248.2,483.6 235.2,484.6 C222.2,485.6 211.5,487.8 200.0,489.5 C188.5,491.2 176.2,491.3 166.2,494.7 C156.2,498.1 146.5,504.1 140.0,510.0 C133.5,515.9 129.3,523.7 127.0,530.0 C124.7,536.3 125.5,541.9 126.0,548.0 C126.5,554.1 126.8,560.7 130.0,566.4 C133.2,572.1 139.4,577.7 145.4,582.0 C151.4,586.3 158.4,590.7 166.2,592.4 C174.1,594.1 185.0,593.5 192.3,592.4 C199.6,591.3 202.6,590.0 210.0,585.9 C217.4,581.8 228.9,573.6 237.0,568.0 C245.1,562.4 250.1,556.6 258.6,552.0 C267.1,547.4 278.1,543.9 287.9,540.3 C297.7,536.7 306.8,533.1 317.2,530.5 C327.6,527.9 341.0,525.4 350.0,524.7 C359.0,524.1 362.0,525.6 371.0,526.6 C380.0,527.6 392.4,528.7 403.8,530.7 C415.2,532.8 430.7,537.3 439.4,538.9 C448.1,540.5 452.2,540.7 455.8,540.2 C459.4,539.7 460.6,537.8 461.0,536.0 Z" fill="none" stroke="#5a78d8" stroke-width="1" opacity="0.9"/>
<polyline points="460.7,537.0 515.0,578.3 532.8,590.2 562.0,613.2 605.3,644.1 626.2,655.6 643.5,667.1 733.0,713.5 760.0,730.0" fill="none" stroke="#e41e1e" stroke-width="1.35"/>
<circle cx="515" cy="578.3" r="2.1" fill="#e84040" stroke="#d01010" stroke-width="0.8"/>
<circle cx="532.8" cy="590.2" r="2.1" fill="#e84040" stroke="#d01010" stroke-width="0.8"/>
<circle cx="562" cy="613.2" r="2.1" fill="#e84040" stroke="#d01010" stroke-width="0.8"/>
<circle cx="605.3" cy="644.1" r="2.1" fill="#e84040" stroke="#d01010" stroke-width="0.8"/>
<circle cx="626.2" cy="655.6" r="2.1" fill="#e84040" stroke="#d01010" stroke-width="0.8"/>
<circle cx="643.5" cy="667.1" r="2.1" fill="#e84040" stroke="#d01010" stroke-width="0.8"/>
<circle cx="688" cy="690" r="2.4" fill="#e84040" stroke="#d01010" stroke-width="0.8"/>
<path d="M460.7,537.0 C452.3,533.5 428.6,521.6 410.5,516.3 C392.4,511.0 371.2,506.5 352.4,505.0 C333.6,503.5 315.0,505.6 297.6,507.5 C280.2,509.4 262.8,512.6 248.0,516.4 C233.2,520.2 221.1,525.6 209.0,530.5 C196.9,535.4 181.1,543.4 175.5,546.0" fill="none" stroke="#e040c8" stroke-width="1.5"/>
<circle cx="460.7" cy="537" r="7.7" fill="#2c3431" opacity="0.96"/>
<circle cx="460.7" cy="537" r="5.2" fill="url(#glowg)"/>
<circle cx="410.5" cy="516.3" r="7.7" fill="#2c3431" opacity="0.96"/>
<circle cx="410.5" cy="516.3" r="5.2" fill="url(#glowg)"/>
<circle cx="352.4" cy="505" r="7.7" fill="#2c3431" opacity="0.96"/>
<circle cx="352.4" cy="505" r="4.2" fill="url(#glowr)"/>
<circle cx="352.4" cy="505" r="2.1" fill="none" stroke="#ff2020" stroke-width="1.5"/>
<path d="M354.5,505 q0.3,3 -1.6,4.4 M350.29999999999995,505 q-0.3,-3 1.6,-4.4" stroke="#ff2020" stroke-width="1.3" fill="none"/>
<circle cx="297.6" cy="507.5" r="7.7" fill="#2c3431" opacity="0.96"/>
<circle cx="297.6" cy="507.5" r="4.2" fill="url(#glowr)"/>
<circle cx="297.6" cy="507.5" r="2.1" fill="none" stroke="#ff2020" stroke-width="1.5"/>
<path d="M299.70000000000005,507.5 q0.3,3 -1.6,4.4 M295.5,507.5 q-0.3,-3 1.6,-4.4" stroke="#ff2020" stroke-width="1.3" fill="none"/>
<circle cx="248" cy="516.4" r="7.7" fill="#2c3431" opacity="0.96"/>
<circle cx="248" cy="516.4" r="4.2" fill="url(#glowr)"/>
<circle cx="248" cy="516.4" r="2.1" fill="none" stroke="#ff2020" stroke-width="1.5"/>
<path d="M250.1,516.4 q0.3,3 -1.6,4.4 M245.9,516.4 q-0.3,-3 1.6,-4.4" stroke="#ff2020" stroke-width="1.3" fill="none"/>
<circle cx="209.5" cy="530.8" r="7.6" fill="#3a3e3e" opacity="0.95"/>
<text x="209.8" y="534.4" font-size="10" font-weight="bold" text-anchor="middle" fill="#fff" style="font-family:Liberation Sans,Arial,sans-serif">L</text>
<circle cx="175.5" cy="546" r="7.6" fill="#3a3e3e" opacity="0.95"/>
<text x="175.8" y="549.6" font-size="10" font-weight="bold" text-anchor="middle" fill="#fff" style="font-family:Liberation Sans,Arial,sans-serif">L</text>
<g stroke="#111" stroke-width="1.6">
<line x1="477.7" y1="493" x2="461.8" y2="534"/>
<line x1="351.8" y1="462" x2="351.8" y2="500"/>
<line x1="244.4" y1="475" x2="244.4" y2="512"/>
<line x1="121.5" y1="514" x2="170" y2="542"/>
</g>
<rect x="432.9" y="466.59999999999997" width="90.50000000000003" height="26.75000000000002" fill="#dcdcdc" stroke="#111" stroke-width="2"/>
<text x="478.05" y="484.075" font-size="11.6" font-weight="bold" text-anchor="middle" fill="#111" style="font-family:Liberation Sans,Arial,sans-serif">INITIAL</text>
<rect x="306.29999999999995" y="436.09999999999997" width="91.10000000000005" height="26.20000000000001" fill="#dcdcdc" stroke="#111" stroke-width="2"/>
<text x="351.75" y="453.29999999999995" font-size="11.6" font-weight="bold" text-anchor="middle" fill="#111" style="font-family:Liberation Sans,Arial,sans-serif">TUE AM</text>
<rect x="199.8" y="447.7" width="90.30000000000001" height="27.20000000000001" fill="#dcdcdc" stroke="#111" stroke-width="2"/>
<text x="244.85000000000002" y="465.4" font-size="11.6" font-weight="bold" text-anchor="middle" fill="#111" style="font-family:Liberation Sans,Arial,sans-serif">WED AM</text>
<rect x="75.5" y="487.59999999999997" width="91.10000000000002" height="26.299999999999976" fill="#dcdcdc" stroke="#111" stroke-width="2"/>
<text x="120.95" y="504.84999999999997" font-size="11.6" font-weight="bold" text-anchor="middle" fill="#111" style="font-family:Liberation Sans,Arial,sans-serif">THU AM</text>
</g>
<rect x="540" y="684" width="210.6" height="26.3" fill="#1c2224" fill-opacity="0.9"/>
<text x="563" y="701.2" font-size="10.1" fill="#d8d8d8" style="font-family:Liberation Sans,Arial,sans-serif">WIND RADII</text>
<text x="626" y="701.2" font-size="11.8" fill="#22dd22" style="font-family:Liberation Sans,Arial,sans-serif">34kt+</text>
<text x="662.3" y="701.2" font-size="11.8" fill="#e8e000" style="font-family:Liberation Sans,Arial,sans-serif">50kt+</text>
<text x="698.3" y="701.2" font-size="11.8" fill="#e81010" style="font-family:Liberation Sans,Arial,sans-serif">64kt+</text>
</svg>
<div class="a" style="left:10px;top:713px;width:741px;height:18px;background:#d9d9d9"></div>
<div class="c" style="left:10px;top:712px;width:741px;height:18px;font-size:14.4px;justify-content:center;color:#111;font-weight:bold;">Forecast Positions and Max Winds</div>
<div class="l" style="left:9px;top:730px;width:742px;height:1px;background:#bfbfbf"></div>
<div class="c" style="left:10px;top:731px;width:370px;height:18px;font-size:12.7px;justify-content:flex-start;color:#111;font-weight:bold;padding-left:58.5px;box-sizing:border-box;">Track Forecast Confidence:&nbsp; Moderate-High</div>
<div class="c" style="left:380px;top:731px;width:371px;height:18px;font-size:12.6px;justify-content:flex-start;color:#111;font-weight:bold;padding-left:37.5px;box-sizing:border-box;">Intensity Forecast Confidence:&nbsp; Moderate</div>
<div class="l" style="left:380px;top:730px;width:1px;height:19px;background:#bfbfbf"></div>
<div class="l" style="left:9px;top:749px;width:742px;height:1px;background:#bfbfbf"></div>
<div class="a" style="left:10px;top:750px;width:741px;height:18px;background:#d9d9d9"></div>
<div class="c" style="left:10px;top:750px;width:222px;height:18px;font-size:11.6px;justify-content:center;color:#111;font-weight:bold;">Storm Center Time/Date (ACT)</div>
<div class="c" style="left:232px;top:750px;width:73px;height:18px;font-size:11.6px;justify-content:center;color:#111;font-weight:bold;">UTC Time</div>
<div class="c" style="left:305px;top:750px;width:149px;height:18px;font-size:11.6px;justify-content:center;color:#111;font-weight:bold;">Position</div>
<div class="c" style="left:454px;top:750px;width:148px;height:18px;font-size:11.6px;justify-content:center;color:#111;font-weight:bold;">Sustained Winds</div>
<div class="c" style="left:602px;top:750px;width:74px;height:18px;font-size:11.6px;justify-content:center;color:#111;font-weight:bold;">Motion</div>
<div class="c" style="left:676px;top:750px;width:75px;height:18px;font-size:11.6px;justify-content:center;color:#111;font-weight:bold;">Category*</div>
<div class="l" style="left:9px;top:713px;width:1px;height:262px;background:#bfbfbf"></div>
<div class="l" style="left:750px;top:713px;width:1px;height:262px;background:#bfbfbf"></div>
<div class="l" style="left:232px;top:749px;width:1px;height:19px;background:#bfbfbf"></div>
<div class="l" style="left:305px;top:749px;width:1px;height:19px;background:#bfbfbf"></div>
<div class="l" style="left:454px;top:749px;width:1px;height:19px;background:#bfbfbf"></div>
<div class="l" style="left:602px;top:749px;width:1px;height:19px;background:#bfbfbf"></div>
<div class="l" style="left:676px;top:749px;width:1px;height:19px;background:#bfbfbf"></div>
<div class="l" style="left:9px;top:768px;width:742px;height:1px;background:#bfbfbf"></div>
<div class="l" style="left:9px;top:786px;width:742px;height:2px;background:#bfbfbf"></div>
<div class="l" style="left:9px;top:806px;width:742px;height:1px;background:#bfbfbf"></div>
<div class="l" style="left:9px;top:825px;width:742px;height:1px;background:#bfbfbf"></div>
<div class="l" style="left:9px;top:843px;width:742px;height:1px;background:#bfbfbf"></div>
<div class="l" style="left:9px;top:862px;width:742px;height:1px;background:#bfbfbf"></div>
<div class="l" style="left:9px;top:881px;width:742px;height:1px;background:#bfbfbf"></div>
<div class="l" style="left:9px;top:898px;width:742px;height:2px;background:#bfbfbf"></div>
<div class="l" style="left:9px;top:918px;width:742px;height:1px;background:#bfbfbf"></div>
<div class="l" style="left:9px;top:937px;width:742px;height:1px;background:#bfbfbf"></div>
<div class="l" style="left:9px;top:956px;width:742px;height:1px;background:#bfbfbf"></div>
<div class="l" style="left:9px;top:974px;width:742px;height:1px;background:#bfbfbf"></div>
<div class="l" style="left:83px;top:768px;width:1px;height:207px;background:#bfbfbf"></div>
<div class="l" style="left:231px;top:768px;width:2px;height:207px;background:#bfbfbf"></div>
<div class="l" style="left:305px;top:768px;width:1px;height:207px;background:#bfbfbf"></div>
<div class="l" style="left:380px;top:768px;width:1px;height:207px;background:#bfbfbf"></div>
<div class="l" style="left:454px;top:768px;width:1px;height:207px;background:#bfbfbf"></div>
<div class="l" style="left:528px;top:768px;width:1px;height:207px;background:#bfbfbf"></div>
<div class="l" style="left:602px;top:768px;width:1px;height:207px;background:#bfbfbf"></div>
<div class="l" style="left:675px;top:768px;width:2px;height:207px;background:#bfbfbf"></div>
<div class="c" style="left:11px;top:769px;width:72px;height:18px;font-size:11.7px;justify-content:center;color:#141414;padding-bottom:1px;box-sizing:border-box;">+0 hr</div>
<div class="c" style="left:84px;top:769px;width:148px;height:18px;font-size:11.7px;justify-content:center;color:#141414;padding-bottom:1px;box-sizing:border-box;">Mon, Nov 18 0500</div>
<div class="c" style="left:233px;top:769px;width:72px;height:18px;font-size:11.7px;justify-content:center;color:#141414;padding-bottom:1px;box-sizing:border-box;">2100</div>
<div class="c" style="left:306px;top:769px;width:74px;height:18px;font-size:11.7px;justify-content:center;color:#141414;padding-bottom:1px;box-sizing:border-box;">18.0N</div>
<div class="c" style="left:381px;top:769px;width:73px;height:18px;font-size:11.7px;justify-content:center;color:#141414;padding-bottom:1px;box-sizing:border-box;">118.8E</div>
<div class="c" style="left:455px;top:769px;width:73px;height:18px;font-size:11.7px;justify-content:center;color:#141414;padding-bottom:1px;box-sizing:border-box;">75 KT</div>
<div class="c" style="left:529px;top:769px;width:73px;height:18px;font-size:11.7px;justify-content:center;color:#141414;padding-bottom:1px;box-sizing:border-box;">85 MPH</div>
<div class="c" style="left:603px;top:769px;width:73px;height:18px;font-size:11.7px;justify-content:center;color:#141414;padding-bottom:1px;box-sizing:border-box;">NW 17 KT</div>
<div class="c" style="left:677px;top:769px;width:74px;height:18px;font-size:11.7px;justify-content:center;color:#fff;background:#ff0000;padding-bottom:1px;box-sizing:border-box;">CAT 1</div>
<div class="c" style="left:11px;top:788px;width:72px;height:18px;font-size:11.7px;justify-content:center;color:#141414;padding-bottom:1px;box-sizing:border-box;">+12 hr</div>
<div class="c" style="left:84px;top:788px;width:148px;height:18px;font-size:11.7px;justify-content:center;color:#141414;padding-bottom:1px;box-sizing:border-box;">Mon, Nov 18 1400</div>
<div class="c" style="left:233px;top:788px;width:72px;height:18px;font-size:11.7px;justify-content:center;color:#141414;padding-bottom:1px;box-sizing:border-box;">0600</div>
<div class="c" style="left:306px;top:788px;width:74px;height:18px;font-size:11.7px;justify-content:center;color:#141414;padding-bottom:1px;box-sizing:border-box;">18.7N</div>
<div class="c" style="left:381px;top:788px;width:73px;height:18px;font-size:11.7px;justify-content:center;color:#141414;padding-bottom:1px;box-sizing:border-box;">117.1E</div>
<div class="c" style="left:455px;top:788px;width:73px;height:18px;font-size:11.7px;justify-content:center;color:#141414;padding-bottom:1px;box-sizing:border-box;">65 KT</div>
<div class="c" style="left:529px;top:788px;width:73px;height:18px;font-size:11.7px;justify-content:center;color:#141414;padding-bottom:1px;box-sizing:border-box;">75 MPH</div>
<div class="c" style="left:603px;top:788px;width:73px;height:18px;font-size:11.7px;justify-content:center;color:#141414;padding-bottom:1px;box-sizing:border-box;">WNW 10 KT</div>
<div class="c" style="left:677px;top:788px;width:74px;height:18px;font-size:11.7px;justify-content:center;color:#fff;background:#ff0000;padding-bottom:1px;box-sizing:border-box;">CAT 1</div>
<div class="c" style="left:11px;top:807px;width:72px;height:18px;font-size:11.7px;justify-content:center;color:#141414;padding-bottom:1px;box-sizing:border-box;">+24 hr</div>
<div class="c" style="left:84px;top:807px;width:148px;height:18px;font-size:11.7px;justify-content:center;color:#141414;padding-bottom:1px;box-sizing:border-box;">Tue, Nov 19 0200</div>
<div class="c" style="left:233px;top:807px;width:72px;height:18px;font-size:11.7px;justify-content:center;color:#141414;padding-bottom:1px;box-sizing:border-box;">1800</div>
<div class="c" style="left:306px;top:807px;width:74px;height:18px;font-size:11.7px;justify-content:center;color:#141414;padding-bottom:1px;box-sizing:border-box;">19.1N</div>
<div class="c" style="left:381px;top:807px;width:73px;height:18px;font-size:11.7px;justify-content:center;color:#141414;padding-bottom:1px;box-sizing:border-box;">115.1E</div>
<div class="c" style="left:455px;top:807px;width:73px;height:18px;font-size:11.7px;justify-content:center;color:#141414;padding-bottom:1px;box-sizing:border-box;">55 KT</div>
<div class="c" style="left:529px;top:807px;width:73px;height:18px;font-size:11.7px;justify-content:center;color:#141414;padding-bottom:1px;box-sizing:border-box;">65 MPH</div>
<div class="c" style="left:603px;top:807px;width:73px;height:18px;font-size:11.7px;justify-content:center;color:#141414;padding-bottom:1px;box-sizing:border-box;">W 9 KT</div>
<div class="c" style="left:677px;top:807px;width:74px;height:18px;font-size:11.7px;justify-content:center;color:#141414;padding-bottom:1px;box-sizing:border-box;">TS</div>
<div class="c" style="left:11px;top:826px;width:72px;height:17px;font-size:11.7px;justify-content:center;color:#141414;padding-bottom:1px;box-sizing:border-box;">+36 hr</div>
<div class="c" style="left:84px;top:826px;width:148px;height:17px;font-size:11.7px;justify-content:center;color:#141414;padding-bottom:1px;box-sizing:border-box;">Tue, Nov 19 1400</div>
<div class="c" style="left:233px;top:826px;width:72px;height:17px;font-size:11.7px;justify-content:center;color:#141414;padding-bottom:1px;box-sizing:border-box;">0600</div>
<div class="c" style="left:306px;top:826px;width:74px;height:17px;font-size:11.7px;justify-content:center;color:#141414;padding-bottom:1px;box-sizing:border-box;">19.0N</div>
<div class="c" style="left:381px;top:826px;width:73px;height:17px;font-size:11.7px;justify-content:center;color:#141414;padding-bottom:1px;box-sizing:border-box;">113.2E</div>
<div class="c" style="left:455px;top:826px;width:73px;height:17px;font-size:11.7px;justify-content:center;color:#141414;padding-bottom:1px;box-sizing:border-box;">45 KT</div>
<div class="c" style="left:529px;top:826px;width:73px;height:17px;font-size:11.7px;justify-content:center;color:#141414;padding-bottom:1px;box-sizing:border-box;">50 MPH</div>
<div class="c" style="left:603px;top:826px;width:73px;height:17px;font-size:11.7px;justify-content:center;color:#141414;padding-bottom:1px;box-sizing:border-box;">W 8 KT</div>
<div class="c" style="left:677px;top:826px;width:74px;height:17px;font-size:11.7px;justify-content:center;color:#141414;padding-bottom:1px;box-sizing:border-box;">TS</div>
<div class="c" style="left:11px;top:844px;width:72px;height:18px;font-size:11.7px;justify-content:center;color:#141414;padding-bottom:1px;box-sizing:border-box;">+48 hr</div>
<div class="c" style="left:84px;top:844px;width:148px;height:18px;font-size:11.7px;justify-content:center;color:#141414;padding-bottom:1px;box-sizing:border-box;">Wed, Nov 20 0200</div>
<div class="c" style="left:233px;top:844px;width:72px;height:18px;font-size:11.7px;justify-content:center;color:#141414;padding-bottom:1px;box-sizing:border-box;">1800</div>
<div class="c" style="left:306px;top:844px;width:74px;height:18px;font-size:11.7px;justify-content:center;color:#141414;padding-bottom:1px;box-sizing:border-box;">18.7N</div>
<div class="c" style="left:381px;top:844px;width:73px;height:18px;font-size:11.7px;justify-content:center;color:#141414;padding-bottom:1px;box-sizing:border-box;">111.5E</div>
<div class="c" style="left:455px;top:844px;width:73px;height:18px;font-size:11.7px;justify-content:center;color:#141414;padding-bottom:1px;box-sizing:border-box;">35 KT</div>
<div class="c" style="left:529px;top:844px;width:73px;height:18px;font-size:11.7px;justify-content:center;color:#141414;padding-bottom:1px;box-sizing:border-box;">40 MPH</div>
<div class="c" style="left:603px;top:844px;width:73px;height:18px;font-size:11.7px;justify-content:center;color:#141414;padding-bottom:1px;box-sizing:border-box;">WSW 7 KT</div>
<div class="c" style="left:677px;top:844px;width:74px;height:18px;font-size:11.7px;justify-content:center;color:#141414;padding-bottom:1px;box-sizing:border-box;">TS</div>
<div class="c" style="left:11px;top:863px;width:72px;height:18px;font-size:11.7px;justify-content:center;color:#141414;padding-bottom:1px;box-sizing:border-box;">+60 hr</div>
<div class="c" style="left:84px;top:863px;width:148px;height:18px;font-size:11.7px;justify-content:center;color:#141414;padding-bottom:1px;box-sizing:border-box;">Wed, Nov 20 1400</div>
<div class="c" style="left:233px;top:863px;width:72px;height:18px;font-size:11.7px;justify-content:center;color:#141414;padding-bottom:1px;box-sizing:border-box;">0600</div>
<div class="c" style="left:306px;top:863px;width:74px;height:18px;font-size:11.7px;justify-content:center;color:#141414;padding-bottom:1px;box-sizing:border-box;">18.2N</div>
<div class="c" style="left:381px;top:863px;width:73px;height:18px;font-size:11.7px;justify-content:center;color:#141414;padding-bottom:1px;box-sizing:border-box;">110.2E</div>
<div class="c" style="left:455px;top:863px;width:73px;height:18px;font-size:11.7px;justify-content:center;color:#141414;padding-bottom:1px;box-sizing:border-box;">30 KT</div>
<div class="c" style="left:529px;top:863px;width:73px;height:18px;font-size:11.7px;justify-content:center;color:#141414;padding-bottom:1px;box-sizing:border-box;">35 MPH</div>
<div class="c" style="left:603px;top:863px;width:73px;height:18px;font-size:11.7px;justify-content:center;color:#141414;padding-bottom:1px;box-sizing:border-box;">WSW 6 KT</div>
<div class="c" style="left:677px;top:863px;width:74px;height:18px;font-size:11.7px;justify-content:center;color:#141414;padding-bottom:1px;box-sizing:border-box;">TD</div>
<div class="c" style="left:11px;top:882px;width:72px;height:17px;font-size:11.7px;justify-content:center;color:#141414;padding-bottom:1px;box-sizing:border-box;">+72 hr</div>
<div class="c" style="left:84px;top:882px;width:148px;height:17px;font-size:11.7px;justify-content:center;color:#141414;padding-bottom:1px;box-sizing:border-box;">Thu, Nov 21 0200</div>
<div class="c" style="left:233px;top:882px;width:72px;height:17px;font-size:11.7px;justify-content:center;color:#141414;padding-bottom:1px;box-sizing:border-box;">1800</div>
<div class="c" style="left:306px;top:882px;width:74px;height:17px;font-size:11.7px;justify-content:center;color:#141414;padding-bottom:1px;box-sizing:border-box;">17.7N</div>
<div class="c" style="left:381px;top:882px;width:73px;height:17px;font-size:11.7px;justify-content:center;color:#141414;padding-bottom:1px;box-sizing:border-box;">109.0E</div>
<div class="c" style="left:455px;top:882px;width:73px;height:17px;font-size:11.7px;justify-content:center;color:#141414;padding-bottom:1px;box-sizing:border-box;">20 KT</div>
<div class="c" style="left:529px;top:882px;width:73px;height:17px;font-size:11.7px;justify-content:center;color:#141414;padding-bottom:1px;box-sizing:border-box;">25 MPH</div>
<div class="c" style="left:603px;top:882px;width:73px;height:17px;font-size:11.7px;justify-content:center;color:#141414;padding-bottom:1px;box-sizing:border-box;">WSW 6 KT</div>
<div class="c" style="left:677px;top:882px;width:74px;height:17px;font-size:11.7px;justify-content:center;color:#141414;padding-bottom:1px;box-sizing:border-box;">TD</div>
<div class="c" style="left:11px;top:900px;width:72px;height:18px;font-size:11.7px;justify-content:center;color:#141414;padding-bottom:1px;box-sizing:border-box;">+96 hr</div>
<div class="c" style="left:84px;top:900px;width:148px;height:18px;font-size:11.7px;justify-content:center;color:#141414;padding-bottom:1px;box-sizing:border-box;">--</div>
<div class="c" style="left:233px;top:900px;width:72px;height:18px;font-size:11.7px;justify-content:center;color:#141414;padding-bottom:1px;box-sizing:border-box;">--</div>
<div class="c" style="left:306px;top:900px;width:74px;height:18px;font-size:11.7px;justify-content:center;color:#141414;padding-bottom:1px;box-sizing:border-box;">--</div>
<div class="c" style="left:381px;top:900px;width:73px;height:18px;font-size:11.7px;justify-content:center;color:#141414;padding-bottom:1px;box-sizing:border-box;">--</div>
<div class="c" style="left:455px;top:900px;width:73px;height:18px;font-size:11.7px;justify-content:center;color:#141414;padding-bottom:1px;box-sizing:border-box;">--</div>
<div class="c" style="left:529px;top:900px;width:73px;height:18px;font-size:11.7px;justify-content:center;color:#141414;padding-bottom:1px;box-sizing:border-box;">--</div>
<div class="c" style="left:603px;top:900px;width:73px;height:18px;font-size:11.7px;justify-content:center;color:#141414;padding-bottom:1px;box-sizing:border-box;">--</div>
<div class="c" style="left:677px;top:900px;width:74px;height:18px;font-size:11.7px;justify-content:center;color:#141414;padding-bottom:1px;box-sizing:border-box;">--</div>
<div class="c" style="left:11px;top:919px;width:72px;height:18px;font-size:11.7px;justify-content:center;color:#141414;padding-bottom:1px;box-sizing:border-box;">+120 hr</div>
<div class="c" style="left:84px;top:919px;width:148px;height:18px;font-size:11.7px;justify-content:center;color:#141414;padding-bottom:1px;box-sizing:border-box;">--</div>
<div class="c" style="left:233px;top:919px;width:72px;height:18px;font-size:11.7px;justify-content:center;color:#141414;padding-bottom:1px;box-sizing:border-box;">--</div>
<div class="c" style="left:306px;top:919px;width:74px;height:18px;font-size:11.7px;justify-content:center;color:#141414;padding-bottom:1px;box-sizing:border-box;">--</div>
<div class="c" style="left:381px;top:919px;width:73px;height:18px;font-size:11.7px;justify-content:center;color:#141414;padding-bottom:1px;box-sizing:border-box;">--</div>
<div class="c" style="left:455px;top:919px;width:73px;height:18px;font-size:11.7px;justify-content:center;color:#141414;padding-bottom:1px;box-sizing:border-box;">--</div>
<div class="c" style="left:529px;top:919px;width:73px;height:18px;font-size:11.7px;justify-content:center;color:#141414;padding-bottom:1px;box-sizing:border-box;">--</div>
<div class="c" style="left:603px;top:919px;width:73px;height:18px;font-size:11.7px;justify-content:center;color:#141414;padding-bottom:1px;box-sizing:border-box;">--</div>
<div class="c" style="left:677px;top:919px;width:74px;height:18px;font-size:11.7px;justify-content:center;color:#141414;padding-bottom:1px;box-sizing:border-box;">--</div>
<div class="c" style="left:11px;top:938px;width:72px;height:18px;font-size:11.7px;justify-content:center;color:#141414;padding-bottom:1px;box-sizing:border-box;">+144 hr</div>
<div class="c" style="left:84px;top:938px;width:148px;height:18px;font-size:11.7px;justify-content:center;color:#141414;padding-bottom:1px;box-sizing:border-box;">--</div>
<div class="c" style="left:233px;top:938px;width:72px;height:18px;font-size:11.7px;justify-content:center;color:#141414;padding-bottom:1px;box-sizing:border-box;">--</div>
<div class="c" style="left:306px;top:938px;width:74px;height:18px;font-size:11.7px;justify-content:center;color:#141414;padding-bottom:1px;box-sizing:border-box;">--</div>
<div class="c" style="left:381px;top:938px;width:73px;height:18px;font-size:11.7px;justify-content:center;color:#141414;padding-bottom:1px;box-sizing:border-box;">--</div>
<div class="c" style="left:455px;top:938px;width:73px;height:18px;font-size:11.7px;justify-content:center;color:#141414;padding-bottom:1px;box-sizing:border-box;">--</div>
<div class="c" style="left:529px;top:938px;width:73px;height:18px;font-size:11.7px;justify-content:center;color:#141414;padding-bottom:1px;box-sizing:border-box;">--</div>
<div class="c" style="left:603px;top:938px;width:73px;height:18px;font-size:11.7px;justify-content:center;color:#141414;padding-bottom:1px;box-sizing:border-box;">--</div>
<div class="c" style="left:677px;top:938px;width:74px;height:18px;font-size:11.7px;justify-content:center;color:#141414;padding-bottom:1px;box-sizing:border-box;">--</div>
<div class="c" style="left:11px;top:957px;width:72px;height:17px;font-size:11.7px;justify-content:center;color:#141414;padding-bottom:1px;box-sizing:border-box;">+168 hr</div>
<div class="c" style="left:84px;top:957px;width:148px;height:17px;font-size:11.7px;justify-content:center;color:#141414;padding-bottom:1px;box-sizing:border-box;">--</div>
<div class="c" style="left:233px;top:957px;width:72px;height:17px;font-size:11.7px;justify-content:center;color:#141414;padding-bottom:1px;box-sizing:border-box;">--</div>
<div class="c" style="left:306px;top:957px;width:74px;height:17px;font-size:11.7px;justify-content:center;color:#141414;padding-bottom:1px;box-sizing:border-box;">--</div>
<div class="c" style="left:381px;top:957px;width:73px;height:17px;font-size:11.7px;justify-content:center;color:#141414;padding-bottom:1px;box-sizing:border-box;">--</div>
<div class="c" style="left:455px;top:957px;width:73px;height:17px;font-size:11.7px;justify-content:center;color:#141414;padding-bottom:1px;box-sizing:border-box;">--</div>
<div class="c" style="left:529px;top:957px;width:73px;height:17px;font-size:11.7px;justify-content:center;color:#141414;padding-bottom:1px;box-sizing:border-box;">--</div>
<div class="c" style="left:603px;top:957px;width:73px;height:17px;font-size:11.7px;justify-content:center;color:#141414;padding-bottom:1px;box-sizing:border-box;">--</div>
<div class="c" style="left:677px;top:957px;width:74px;height:17px;font-size:11.7px;justify-content:center;color:#141414;padding-bottom:1px;box-sizing:border-box;">--</div>
<div class="a" style="left:11.5px;top:994px;font-size:9.9px;color:#111;line-height:14px">Prepared by WeatherOps Forecaster: MURPHY&nbsp; | 405.801.3919 | WeatherOps.com</div>
<div class="a" style="left:557px;top:994px;font-size:9.9px;color:#111;line-height:14px">*Saffir Simpson Scale</div>
<div class="a" style="left:692px;top:984.4px;font-size:16.4px;font-weight:bold;color:#111;line-height:18px;transform:scaleX(1.06);transform-origin:0 0">DT<span style="display:inline-block;transform:scaleY(1.28);transform-origin:50% 80%">n</span></div>
<svg class="a" style="left:726.5px;top:985.6px" width="6.5" height="6.5" viewBox="0 0 6.5 6.5"><path d="M0.2 3.25 A3.05 3.05 0 0 1 6.3 3.25 L4.6 3.25 A1.35 1.35 0 0 0 1.9 3.25Z" fill="#2b8fd9"/><path d="M0.2 3.25 A3.05 3.05 0 0 0 6.3 3.25 L4.6 3.25 A1.35 1.35 0 0 1 1.9 3.25Z" fill="#5cb946"/></svg>
</body></html>
